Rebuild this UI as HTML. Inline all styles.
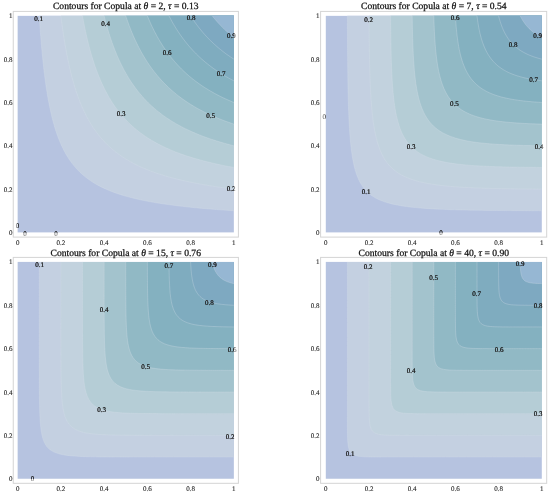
<!DOCTYPE html><html><head><meta charset="utf-8"><style>
html,body{margin:0;padding:0;background:#fff;width:550px;height:494px;overflow:hidden}
svg{display:block}
text{font-family:"Liberation Serif","DejaVu Serif",serif;text-rendering:geometricPrecision}
.cl text{font-size:7px;fill:#1e1e1e;text-anchor:middle;stroke:#1e1e1e;stroke-width:0.12px}
.tk text{font-size:7px;fill:#222222;stroke:#222222;stroke-width:0.1px}
.ti{font-size:9.6px;fill:#111111;stroke:#111111;stroke-width:0.25px}
</style></head><body>
<svg width="550" height="494" viewBox="0 0 550 494">
<rect x="17.65" y="15.85" width="216.2" height="216.55" fill="#b6c3e0"/>
<path d="M39.27 15.85 39.49 19.29 39.72 22.72 39.95 26.14 40.2 29.57 40.45 32.99 40.71 36.41 40.98 39.84 41.27 43.27 41.56 46.7 41.87 50.14 42.19 53.59 42.53 57.05 42.88 60.52 43.26 64 43.64 67.5 44.05 71.01 44.48 74.53 44.94 78.07 45.42 81.63 45.92 85.2 46.46 88.79 47.03 92.39 47.63 96.02 48.28 99.66 48.96 103.31 49.69 106.98 50.48 110.66 51.31 114.36 52.21 118.05 53.18 121.76 54.21 125.46 55.33 129.15 56.53 132.83 57.82 136.49 59.22 140.12 60.72 143.72 62.35 147.26 64.09 150.75 65.97 154.16 67.99 157.49 70.14 160.72 72.44 163.84 74.89 166.85 77.49 169.73 80.22 172.47 83.09 175.06 86.09 177.52 89.21 179.82 92.44 181.98 95.76 184 99.17 185.88 102.65 187.63 106.19 189.26 109.78 190.76 113.4 192.16 117.06 193.46 120.73 194.66 124.42 195.78 128.12 196.82 131.81 197.78 135.5 198.68 139.19 199.52 142.87 200.3 146.53 201.04 150.18 201.72 153.81 202.37 157.43 202.97 161.03 203.54 164.61 204.08 168.18 204.59 171.73 205.07 175.26 205.52 178.78 205.95 182.28 206.36 185.77 206.75 189.25 207.12 192.71 207.48 196.17 207.82 199.61 208.14 203.05 208.45 206.48 208.74 209.9 209.03 213.32 209.3 216.74 209.57 220.16 209.82 223.57 210.06 226.99 210.3 230.42 210.53 233.85 210.74 L233.85 15.85Z" fill="#c4d0e1"/>
<path d="M60.89 15.85 61.27 18.9 61.66 21.94 62.07 24.97 62.48 27.99 62.91 31 63.35 34 63.81 37 64.29 39.99 64.78 42.98 65.29 45.96 65.81 48.94 66.36 51.92 66.93 54.9 67.52 57.87 68.13 60.85 68.77 63.82 69.43 66.8 70.13 69.77 70.85 72.75 71.6 75.72 72.39 78.69 73.22 81.66 74.08 84.63 74.98 87.6 75.92 90.56 76.91 93.51 77.95 96.46 79.03 99.4 80.17 102.32 81.36 105.23 82.61 108.13 83.93 111 85.3 113.85 86.74 116.67 88.25 119.46 89.83 122.22 91.49 124.93 93.21 127.61 95.02 130.23 96.89 132.8 98.85 135.32 100.88 137.77 102.98 140.17 105.16 142.49 107.41 144.75 109.73 146.93 112.12 149.04 114.58 151.07 117.09 153.03 119.66 154.91 122.28 156.71 124.94 158.44 127.66 160.1 130.41 161.68 133.19 163.19 136.01 164.64 138.85 166.02 141.72 167.33 144.61 168.58 147.52 169.78 150.44 170.92 153.37 172.01 156.31 173.04 159.26 174.03 162.22 174.98 165.18 175.88 168.14 176.75 171.11 177.57 174.08 178.36 177.04 179.11 180.01 179.84 182.98 180.53 185.95 181.2 188.92 181.84 191.89 182.45 194.86 183.04 197.84 183.61 200.81 184.16 203.79 184.69 206.77 185.2 209.75 185.69 212.74 186.16 215.73 186.62 218.73 187.07 221.73 187.5 224.75 187.91 227.77 188.32 230.8 188.71 233.85 189.09 L233.85 15.85Z" fill="#c2d2de"/>
<path d="M82.51 15.85 82.99 18.52 83.49 21.17 84 23.8 84.52 26.43 85.06 29.04 85.61 31.63 86.17 34.22 86.76 36.79 87.35 39.36 87.97 41.91 88.61 44.45 89.26 46.99 89.94 49.52 90.64 52.03 91.36 54.54 92.1 57.04 92.87 59.54 93.66 62.02 94.48 64.5 95.32 66.97 96.2 69.43 97.11 71.88 98.04 74.31 99.02 76.74 100.02 79.16 101.06 81.56 102.14 83.95 103.25 86.33 104.4 88.69 105.6 91.03 106.83 93.35 108.11 95.65 109.43 97.93 110.8 100.19 112.21 102.42 113.66 104.62 115.16 106.79 116.71 108.93 118.31 111.04 119.95 113.11 121.64 115.15 123.38 117.15 125.16 119.1 126.98 121.02 128.85 122.89 130.76 124.72 132.72 126.5 134.71 128.24 136.75 129.93 138.81 131.58 140.92 133.18 143.06 134.73 145.23 136.23 147.42 137.69 149.65 139.1 151.9 140.47 154.18 141.79 156.48 143.07 158.79 144.31 161.13 145.51 163.49 146.66 165.86 147.78 168.24 148.86 170.64 149.9 173.06 150.9 175.48 151.88 177.91 152.81 180.36 153.72 182.81 154.6 185.28 155.45 187.75 156.27 190.23 157.06 192.72 157.83 195.22 158.58 197.72 159.3 200.24 159.99 202.76 160.67 205.29 161.33 207.83 161.96 210.38 162.58 212.94 163.18 215.51 163.77 218.09 164.33 220.69 164.89 223.29 165.42 225.91 165.95 228.54 166.45 231.19 166.95 233.85 167.44 L233.85 15.85Z" fill="#b5cdd6"/>
<path d="M104.13 15.85 104.71 18.13 105.3 20.4 105.9 22.64 106.52 24.87 107.14 27.08 107.78 29.27 108.44 31.45 109.11 33.61 109.79 35.76 110.49 37.89 111.2 40 111.93 42.11 112.67 44.2 113.44 46.27 114.22 48.34 115.02 50.38 115.83 52.42 116.67 54.44 117.53 56.45 118.41 58.45 119.31 60.43 120.23 62.4 121.17 64.36 122.14 66.3 123.13 68.23 124.14 70.14 125.18 72.04 126.25 73.92 127.34 75.78 128.45 77.63 129.59 79.46 130.76 81.28 131.96 83.07 133.18 84.85 134.43 86.6 135.7 88.34 137.01 90.05 138.34 91.75 139.7 93.42 141.09 95.06 142.5 96.69 143.94 98.29 145.41 99.86 146.9 101.41 148.43 102.94 149.97 104.43 151.55 105.9 153.14 107.35 154.76 108.76 156.41 110.15 158.08 111.52 159.77 112.85 161.48 114.16 163.21 115.43 164.96 116.69 166.74 117.91 168.53 119.11 170.34 120.28 172.17 121.42 174.01 122.54 175.88 123.63 177.75 124.69 179.65 125.73 181.56 126.75 183.48 127.74 185.42 128.71 187.37 129.65 189.34 130.58 191.32 131.48 193.31 132.36 195.32 133.22 197.34 134.06 199.37 134.88 201.42 135.68 203.48 136.46 205.55 137.22 207.63 137.97 209.73 138.7 211.85 139.41 213.98 140.11 216.12 140.8 218.28 141.47 220.45 142.12 222.64 142.76 224.85 143.39 227.07 144.01 229.31 144.61 231.57 145.2 233.85 145.78 L233.85 15.85Z" fill="#a3c3cd"/>
<path d="M125.75 15.85 126.39 17.75 127.03 19.63 127.69 21.49 128.35 23.32 129.02 25.14 129.7 26.94 130.39 28.72 131.09 30.48 131.81 32.22 132.53 33.95 133.26 35.66 134 37.35 134.76 39.03 135.52 40.69 136.3 42.34 137.09 43.97 137.89 45.59 138.7 47.19 139.53 48.78 140.36 50.35 141.21 51.91 142.08 53.45 142.96 54.98 143.85 56.49 144.76 58 145.68 59.48 146.61 60.96 147.56 62.42 148.52 63.86 149.5 65.29 150.49 66.71 151.5 68.11 152.52 69.5 153.56 70.88 154.62 72.24 155.68 73.58 156.77 74.91 157.87 76.23 158.98 77.53 160.12 78.81 161.26 80.09 162.42 81.34 163.6 82.58 164.79 83.81 166 85.02 167.23 86.21 168.46 87.39 169.72 88.56 170.99 89.7 172.27 90.84 173.57 91.95 174.88 93.06 176.21 94.14 177.56 95.21 178.91 96.27 180.28 97.31 181.67 98.33 183.07 99.34 184.49 100.34 185.92 101.32 187.36 102.28 188.82 103.23 190.29 104.17 191.77 105.09 193.27 106 194.78 106.89 196.31 107.77 197.85 108.64 199.41 109.49 200.98 110.33 202.56 111.15 204.16 111.97 205.77 112.77 207.4 113.56 209.05 114.34 210.71 115.11 212.38 115.86 214.07 116.6 215.78 117.34 217.5 118.06 219.24 118.77 221 119.47 222.78 120.17 224.58 120.85 226.39 121.52 228.22 122.19 230.08 122.84 231.95 123.49 233.85 124.13 L233.85 15.85Z" fill="#91b9c5"/>
<path d="M147.37 15.85 147.99 17.37 148.62 18.86 149.26 20.34 149.9 21.8 150.54 23.23 151.19 24.65 151.84 26.05 152.5 27.43 153.17 28.8 153.84 30.14 154.51 31.47 155.19 32.79 155.88 34.09 156.57 35.37 157.27 36.64 157.98 37.9 158.69 39.14 159.41 40.37 160.14 41.58 160.87 42.78 161.61 43.97 162.35 45.14 163.1 46.31 163.86 47.46 164.63 48.6 165.4 49.72 166.18 50.84 166.97 51.94 167.77 53.03 168.57 54.11 169.38 55.18 170.2 56.24 171.03 57.29 171.87 58.33 172.71 59.36 173.56 60.38 174.42 61.39 175.29 62.38 176.17 63.37 177.05 64.35 177.95 65.32 178.85 66.28 179.76 67.23 180.68 68.17 181.61 69.1 182.55 70.03 183.5 70.94 184.46 71.84 185.43 72.74 186.4 73.63 187.39 74.51 188.39 75.38 189.39 76.24 190.41 77.09 191.44 77.93 192.47 78.77 193.52 79.6 194.58 80.42 195.65 81.23 196.73 82.04 197.82 82.84 198.92 83.63 200.03 84.41 201.16 85.18 202.29 85.95 203.44 86.71 204.6 87.47 205.78 88.21 206.96 88.95 208.16 89.68 209.37 90.41 210.6 91.13 211.84 91.84 213.09 92.55 214.36 93.25 215.64 93.94 216.94 94.63 218.25 95.32 219.58 95.99 220.92 96.66 222.29 97.33 223.67 97.99 225.06 98.65 226.48 99.29 227.91 99.94 229.37 100.58 230.84 101.21 232.33 101.84 233.85 102.47 L233.85 15.85Z" fill="#84b1c0"/>
<path d="M168.99 15.85 169.58 16.99 170.16 18.1 170.74 19.2 171.33 20.28 171.91 21.34 172.5 22.38 173.08 23.41 173.67 24.42 174.26 25.41 174.84 26.39 175.43 27.36 176.02 28.31 176.6 29.24 177.19 30.16 177.78 31.07 178.37 31.97 178.96 32.86 179.56 33.73 180.15 34.59 180.75 35.45 181.34 36.29 181.94 37.12 182.54 37.94 183.14 38.75 183.75 39.55 184.35 40.34 184.96 41.13 185.57 41.9 186.18 42.67 186.8 43.43 187.41 44.18 188.03 44.93 188.65 45.67 189.28 46.4 189.91 47.12 190.54 47.84 191.18 48.55 191.81 49.25 192.46 49.95 193.1 50.65 193.75 51.33 194.41 52.02 195.06 52.7 195.73 53.37 196.39 54.04 197.06 54.7 197.74 55.36 198.42 56.01 199.11 56.66 199.8 57.31 200.5 57.95 201.2 58.59 201.91 59.23 202.63 59.86 203.35 60.49 204.08 61.12 204.82 61.74 205.56 62.36 206.31 62.98 207.07 63.6 207.84 64.21 208.61 64.82 209.39 65.43 210.19 66.03 210.99 66.64 211.8 67.24 212.62 67.84 213.45 68.44 214.29 69.04 215.14 69.64 216 70.23 216.87 70.82 217.75 71.42 218.65 72.01 219.56 72.6 220.48 73.19 221.41 73.78 222.36 74.37 223.33 74.95 224.3 75.54 225.3 76.13 226.3 76.71 227.33 77.3 228.37 77.89 229.43 78.47 230.51 79.06 231.6 79.64 232.72 80.23 233.85 80.81 L233.85 15.85Z" fill="#7facbf"/>
<path d="M190.61 15.85 191.09 16.61 191.57 17.35 192.05 18.07 192.52 18.78 192.99 19.47 193.45 20.15 193.91 20.82 194.37 21.47 194.82 22.11 195.27 22.74 195.72 23.36 196.16 23.97 196.6 24.56 197.04 25.15 197.47 25.73 197.9 26.3 198.33 26.86 198.76 27.41 199.19 27.95 199.61 28.48 200.03 29.01 200.46 29.53 200.87 30.05 201.29 30.55 201.71 31.05 202.13 31.55 202.54 32.04 202.96 32.52 203.37 33 203.78 33.47 204.2 33.94 204.61 34.41 205.02 34.87 205.43 35.32 205.85 35.78 206.26 36.23 206.68 36.67 207.09 37.11 207.51 37.55 207.92 37.99 208.34 38.42 208.76 38.85 209.18 39.28 209.6 39.71 210.03 40.14 210.45 40.56 210.88 40.98 211.31 41.4 211.75 41.82 212.18 42.24 212.62 42.65 213.06 43.07 213.51 43.48 213.96 43.9 214.41 44.31 214.86 44.72 215.32 45.14 215.79 45.55 216.25 45.97 216.73 46.38 217.2 46.79 217.69 47.21 218.18 47.63 218.67 48.04 219.17 48.46 219.68 48.88 220.19 49.3 220.71 49.72 221.24 50.14 221.77 50.57 222.31 50.99 222.86 51.42 223.42 51.85 223.99 52.29 224.56 52.72 225.15 53.16 225.75 53.6 226.35 54.05 226.97 54.49 227.6 54.94 228.24 55.4 228.89 55.85 229.56 56.31 230.23 56.78 230.93 57.25 231.63 57.72 232.36 58.19 233.1 58.67 233.85 59.16 L233.85 15.85Z" fill="#7ea9c1"/>
<path d="M212.23 15.85 212.53 16.23 212.83 16.59 213.11 16.95 213.4 17.3 213.68 17.64 213.95 17.97 214.22 18.29 214.48 18.61 214.74 18.92 215 19.22 215.25 19.51 215.5 19.8 215.74 20.09 215.98 20.36 216.22 20.64 216.45 20.91 216.68 21.17 216.91 21.43 217.14 21.68 217.36 21.93 217.58 22.18 217.8 22.42 218.02 22.66 218.24 22.9 218.45 23.14 218.66 23.37 218.87 23.59 219.08 23.82 219.29 24.04 219.5 24.26 219.7 24.48 219.91 24.7 220.11 24.91 220.31 25.13 220.52 25.34 220.72 25.55 220.92 25.76 221.12 25.97 221.32 26.17 221.52 26.38 221.72 26.58 221.92 26.79 222.12 26.99 222.33 27.19 222.53 27.39 222.73 27.59 222.93 27.8 223.14 28 223.34 28.2 223.54 28.4 223.75 28.6 223.96 28.8 224.17 29 224.38 29.21 224.59 29.41 224.8 29.61 225.01 29.82 225.23 30.02 225.45 30.23 225.67 30.43 225.89 30.64 226.12 30.85 226.35 31.06 226.58 31.28 226.81 31.49 227.05 31.71 227.29 31.92 227.53 32.14 227.78 32.36 228.03 32.59 228.28 32.82 228.54 33.04 228.8 33.28 229.07 33.51 229.34 33.75 229.62 33.99 229.9 34.23 230.19 34.48 230.49 34.73 230.79 34.99 231.1 35.25 231.41 35.51 231.73 35.78 232.07 36.06 232.4 36.34 232.75 36.62 233.11 36.91 233.47 37.2 233.85 37.5 L233.85 15.85Z" fill="#96b7d3"/>
<g fill="none" stroke="#d4e0e8" stroke-opacity="0.45" stroke-width="0.7">
<path d="M39.27 15.85 39.49 19.29 39.72 22.72 39.95 26.14 40.2 29.57 40.45 32.99 40.71 36.41 40.98 39.84 41.27 43.27 41.56 46.7 41.87 50.14 42.19 53.59 42.53 57.05 42.88 60.52 43.26 64 43.64 67.5 44.05 71.01 44.48 74.53 44.94 78.07 45.42 81.63 45.92 85.2 46.46 88.79 47.03 92.39 47.63 96.02 48.28 99.66 48.96 103.31 49.69 106.98 50.48 110.66 51.31 114.36 52.21 118.05 53.18 121.76 54.21 125.46 55.33 129.15 56.53 132.83 57.82 136.49 59.22 140.12 60.72 143.72 62.35 147.26 64.09 150.75 65.97 154.16 67.99 157.49 70.14 160.72 72.44 163.84 74.89 166.85 77.49 169.73 80.22 172.47 83.09 175.06 86.09 177.52 89.21 179.82 92.44 181.98 95.76 184 99.17 185.88 102.65 187.63 106.19 189.26 109.78 190.76 113.4 192.16 117.06 193.46 120.73 194.66 124.42 195.78 128.12 196.82 131.81 197.78 135.5 198.68 139.19 199.52 142.87 200.3 146.53 201.04 150.18 201.72 153.81 202.37 157.43 202.97 161.03 203.54 164.61 204.08 168.18 204.59 171.73 205.07 175.26 205.52 178.78 205.95 182.28 206.36 185.77 206.75 189.25 207.12 192.71 207.48 196.17 207.82 199.61 208.14 203.05 208.45 206.48 208.74 209.9 209.03 213.32 209.3 216.74 209.57 220.16 209.82 223.57 210.06 226.99 210.3 230.42 210.53 233.85 210.74"/>
<path d="M60.89 15.85 61.27 18.9 61.66 21.94 62.07 24.97 62.48 27.99 62.91 31 63.35 34 63.81 37 64.29 39.99 64.78 42.98 65.29 45.96 65.81 48.94 66.36 51.92 66.93 54.9 67.52 57.87 68.13 60.85 68.77 63.82 69.43 66.8 70.13 69.77 70.85 72.75 71.6 75.72 72.39 78.69 73.22 81.66 74.08 84.63 74.98 87.6 75.92 90.56 76.91 93.51 77.95 96.46 79.03 99.4 80.17 102.32 81.36 105.23 82.61 108.13 83.93 111 85.3 113.85 86.74 116.67 88.25 119.46 89.83 122.22 91.49 124.93 93.21 127.61 95.02 130.23 96.89 132.8 98.85 135.32 100.88 137.77 102.98 140.17 105.16 142.49 107.41 144.75 109.73 146.93 112.12 149.04 114.58 151.07 117.09 153.03 119.66 154.91 122.28 156.71 124.94 158.44 127.66 160.1 130.41 161.68 133.19 163.19 136.01 164.64 138.85 166.02 141.72 167.33 144.61 168.58 147.52 169.78 150.44 170.92 153.37 172.01 156.31 173.04 159.26 174.03 162.22 174.98 165.18 175.88 168.14 176.75 171.11 177.57 174.08 178.36 177.04 179.11 180.01 179.84 182.98 180.53 185.95 181.2 188.92 181.84 191.89 182.45 194.86 183.04 197.84 183.61 200.81 184.16 203.79 184.69 206.77 185.2 209.75 185.69 212.74 186.16 215.73 186.62 218.73 187.07 221.73 187.5 224.75 187.91 227.77 188.32 230.8 188.71 233.85 189.09"/>
<path d="M82.51 15.85 82.99 18.52 83.49 21.17 84 23.8 84.52 26.43 85.06 29.04 85.61 31.63 86.17 34.22 86.76 36.79 87.35 39.36 87.97 41.91 88.61 44.45 89.26 46.99 89.94 49.52 90.64 52.03 91.36 54.54 92.1 57.04 92.87 59.54 93.66 62.02 94.48 64.5 95.32 66.97 96.2 69.43 97.11 71.88 98.04 74.31 99.02 76.74 100.02 79.16 101.06 81.56 102.14 83.95 103.25 86.33 104.4 88.69 105.6 91.03 106.83 93.35 108.11 95.65 109.43 97.93 110.8 100.19 112.21 102.42 113.66 104.62 115.16 106.79 116.71 108.93 118.31 111.04 119.95 113.11 121.64 115.15 123.38 117.15 125.16 119.1 126.98 121.02 128.85 122.89 130.76 124.72 132.72 126.5 134.71 128.24 136.75 129.93 138.81 131.58 140.92 133.18 143.06 134.73 145.23 136.23 147.42 137.69 149.65 139.1 151.9 140.47 154.18 141.79 156.48 143.07 158.79 144.31 161.13 145.51 163.49 146.66 165.86 147.78 168.24 148.86 170.64 149.9 173.06 150.9 175.48 151.88 177.91 152.81 180.36 153.72 182.81 154.6 185.28 155.45 187.75 156.27 190.23 157.06 192.72 157.83 195.22 158.58 197.72 159.3 200.24 159.99 202.76 160.67 205.29 161.33 207.83 161.96 210.38 162.58 212.94 163.18 215.51 163.77 218.09 164.33 220.69 164.89 223.29 165.42 225.91 165.95 228.54 166.45 231.19 166.95 233.85 167.44"/>
<path d="M104.13 15.85 104.71 18.13 105.3 20.4 105.9 22.64 106.52 24.87 107.14 27.08 107.78 29.27 108.44 31.45 109.11 33.61 109.79 35.76 110.49 37.89 111.2 40 111.93 42.11 112.67 44.2 113.44 46.27 114.22 48.34 115.02 50.38 115.83 52.42 116.67 54.44 117.53 56.45 118.41 58.45 119.31 60.43 120.23 62.4 121.17 64.36 122.14 66.3 123.13 68.23 124.14 70.14 125.18 72.04 126.25 73.92 127.34 75.78 128.45 77.63 129.59 79.46 130.76 81.28 131.96 83.07 133.18 84.85 134.43 86.6 135.7 88.34 137.01 90.05 138.34 91.75 139.7 93.42 141.09 95.06 142.5 96.69 143.94 98.29 145.41 99.86 146.9 101.41 148.43 102.94 149.97 104.43 151.55 105.9 153.14 107.35 154.76 108.76 156.41 110.15 158.08 111.52 159.77 112.85 161.48 114.16 163.21 115.43 164.96 116.69 166.74 117.91 168.53 119.11 170.34 120.28 172.17 121.42 174.01 122.54 175.88 123.63 177.75 124.69 179.65 125.73 181.56 126.75 183.48 127.74 185.42 128.71 187.37 129.65 189.34 130.58 191.32 131.48 193.31 132.36 195.32 133.22 197.34 134.06 199.37 134.88 201.42 135.68 203.48 136.46 205.55 137.22 207.63 137.97 209.73 138.7 211.85 139.41 213.98 140.11 216.12 140.8 218.28 141.47 220.45 142.12 222.64 142.76 224.85 143.39 227.07 144.01 229.31 144.61 231.57 145.2 233.85 145.78"/>
<path d="M125.75 15.85 126.39 17.75 127.03 19.63 127.69 21.49 128.35 23.32 129.02 25.14 129.7 26.94 130.39 28.72 131.09 30.48 131.81 32.22 132.53 33.95 133.26 35.66 134 37.35 134.76 39.03 135.52 40.69 136.3 42.34 137.09 43.97 137.89 45.59 138.7 47.19 139.53 48.78 140.36 50.35 141.21 51.91 142.08 53.45 142.96 54.98 143.85 56.49 144.76 58 145.68 59.48 146.61 60.96 147.56 62.42 148.52 63.86 149.5 65.29 150.49 66.71 151.5 68.11 152.52 69.5 153.56 70.88 154.62 72.24 155.68 73.58 156.77 74.91 157.87 76.23 158.98 77.53 160.12 78.81 161.26 80.09 162.42 81.34 163.6 82.58 164.79 83.81 166 85.02 167.23 86.21 168.46 87.39 169.72 88.56 170.99 89.7 172.27 90.84 173.57 91.95 174.88 93.06 176.21 94.14 177.56 95.21 178.91 96.27 180.28 97.31 181.67 98.33 183.07 99.34 184.49 100.34 185.92 101.32 187.36 102.28 188.82 103.23 190.29 104.17 191.77 105.09 193.27 106 194.78 106.89 196.31 107.77 197.85 108.64 199.41 109.49 200.98 110.33 202.56 111.15 204.16 111.97 205.77 112.77 207.4 113.56 209.05 114.34 210.71 115.11 212.38 115.86 214.07 116.6 215.78 117.34 217.5 118.06 219.24 118.77 221 119.47 222.78 120.17 224.58 120.85 226.39 121.52 228.22 122.19 230.08 122.84 231.95 123.49 233.85 124.13"/>
<path d="M147.37 15.85 147.99 17.37 148.62 18.86 149.26 20.34 149.9 21.8 150.54 23.23 151.19 24.65 151.84 26.05 152.5 27.43 153.17 28.8 153.84 30.14 154.51 31.47 155.19 32.79 155.88 34.09 156.57 35.37 157.27 36.64 157.98 37.9 158.69 39.14 159.41 40.37 160.14 41.58 160.87 42.78 161.61 43.97 162.35 45.14 163.1 46.31 163.86 47.46 164.63 48.6 165.4 49.72 166.18 50.84 166.97 51.94 167.77 53.03 168.57 54.11 169.38 55.18 170.2 56.24 171.03 57.29 171.87 58.33 172.71 59.36 173.56 60.38 174.42 61.39 175.29 62.38 176.17 63.37 177.05 64.35 177.95 65.32 178.85 66.28 179.76 67.23 180.68 68.17 181.61 69.1 182.55 70.03 183.5 70.94 184.46 71.84 185.43 72.74 186.4 73.63 187.39 74.51 188.39 75.38 189.39 76.24 190.41 77.09 191.44 77.93 192.47 78.77 193.52 79.6 194.58 80.42 195.65 81.23 196.73 82.04 197.82 82.84 198.92 83.63 200.03 84.41 201.16 85.18 202.29 85.95 203.44 86.71 204.6 87.47 205.78 88.21 206.96 88.95 208.16 89.68 209.37 90.41 210.6 91.13 211.84 91.84 213.09 92.55 214.36 93.25 215.64 93.94 216.94 94.63 218.25 95.32 219.58 95.99 220.92 96.66 222.29 97.33 223.67 97.99 225.06 98.65 226.48 99.29 227.91 99.94 229.37 100.58 230.84 101.21 232.33 101.84 233.85 102.47"/>
<path d="M168.99 15.85 169.58 16.99 170.16 18.1 170.74 19.2 171.33 20.28 171.91 21.34 172.5 22.38 173.08 23.41 173.67 24.42 174.26 25.41 174.84 26.39 175.43 27.36 176.02 28.31 176.6 29.24 177.19 30.16 177.78 31.07 178.37 31.97 178.96 32.86 179.56 33.73 180.15 34.59 180.75 35.45 181.34 36.29 181.94 37.12 182.54 37.94 183.14 38.75 183.75 39.55 184.35 40.34 184.96 41.13 185.57 41.9 186.18 42.67 186.8 43.43 187.41 44.18 188.03 44.93 188.65 45.67 189.28 46.4 189.91 47.12 190.54 47.84 191.18 48.55 191.81 49.25 192.46 49.95 193.1 50.65 193.75 51.33 194.41 52.02 195.06 52.7 195.73 53.37 196.39 54.04 197.06 54.7 197.74 55.36 198.42 56.01 199.11 56.66 199.8 57.31 200.5 57.95 201.2 58.59 201.91 59.23 202.63 59.86 203.35 60.49 204.08 61.12 204.82 61.74 205.56 62.36 206.31 62.98 207.07 63.6 207.84 64.21 208.61 64.82 209.39 65.43 210.19 66.03 210.99 66.64 211.8 67.24 212.62 67.84 213.45 68.44 214.29 69.04 215.14 69.64 216 70.23 216.87 70.82 217.75 71.42 218.65 72.01 219.56 72.6 220.48 73.19 221.41 73.78 222.36 74.37 223.33 74.95 224.3 75.54 225.3 76.13 226.3 76.71 227.33 77.3 228.37 77.89 229.43 78.47 230.51 79.06 231.6 79.64 232.72 80.23 233.85 80.81"/>
<path d="M190.61 15.85 191.09 16.61 191.57 17.35 192.05 18.07 192.52 18.78 192.99 19.47 193.45 20.15 193.91 20.82 194.37 21.47 194.82 22.11 195.27 22.74 195.72 23.36 196.16 23.97 196.6 24.56 197.04 25.15 197.47 25.73 197.9 26.3 198.33 26.86 198.76 27.41 199.19 27.95 199.61 28.48 200.03 29.01 200.46 29.53 200.87 30.05 201.29 30.55 201.71 31.05 202.13 31.55 202.54 32.04 202.96 32.52 203.37 33 203.78 33.47 204.2 33.94 204.61 34.41 205.02 34.87 205.43 35.32 205.85 35.78 206.26 36.23 206.68 36.67 207.09 37.11 207.51 37.55 207.92 37.99 208.34 38.42 208.76 38.85 209.18 39.28 209.6 39.71 210.03 40.14 210.45 40.56 210.88 40.98 211.31 41.4 211.75 41.82 212.18 42.24 212.62 42.65 213.06 43.07 213.51 43.48 213.96 43.9 214.41 44.31 214.86 44.72 215.32 45.14 215.79 45.55 216.25 45.97 216.73 46.38 217.2 46.79 217.69 47.21 218.18 47.63 218.67 48.04 219.17 48.46 219.68 48.88 220.19 49.3 220.71 49.72 221.24 50.14 221.77 50.57 222.31 50.99 222.86 51.42 223.42 51.85 223.99 52.29 224.56 52.72 225.15 53.16 225.75 53.6 226.35 54.05 226.97 54.49 227.6 54.94 228.24 55.4 228.89 55.85 229.56 56.31 230.23 56.78 230.93 57.25 231.63 57.72 232.36 58.19 233.1 58.67 233.85 59.16"/>
<path d="M212.23 15.85 212.53 16.23 212.83 16.59 213.11 16.95 213.4 17.3 213.68 17.64 213.95 17.97 214.22 18.29 214.48 18.61 214.74 18.92 215 19.22 215.25 19.51 215.5 19.8 215.74 20.09 215.98 20.36 216.22 20.64 216.45 20.91 216.68 21.17 216.91 21.43 217.14 21.68 217.36 21.93 217.58 22.18 217.8 22.42 218.02 22.66 218.24 22.9 218.45 23.14 218.66 23.37 218.87 23.59 219.08 23.82 219.29 24.04 219.5 24.26 219.7 24.48 219.91 24.7 220.11 24.91 220.31 25.13 220.52 25.34 220.72 25.55 220.92 25.76 221.12 25.97 221.32 26.17 221.52 26.38 221.72 26.58 221.92 26.79 222.12 26.99 222.33 27.19 222.53 27.39 222.73 27.59 222.93 27.8 223.14 28 223.34 28.2 223.54 28.4 223.75 28.6 223.96 28.8 224.17 29 224.38 29.21 224.59 29.41 224.8 29.61 225.01 29.82 225.23 30.02 225.45 30.23 225.67 30.43 225.89 30.64 226.12 30.85 226.35 31.06 226.58 31.28 226.81 31.49 227.05 31.71 227.29 31.92 227.53 32.14 227.78 32.36 228.03 32.59 228.28 32.82 228.54 33.04 228.8 33.28 229.07 33.51 229.34 33.75 229.62 33.99 229.9 34.23 230.19 34.48 230.49 34.73 230.79 34.99 231.1 35.25 231.41 35.51 231.73 35.78 232.07 36.06 232.4 36.34 232.75 36.62 233.11 36.91 233.47 37.2 233.85 37.5"/>
</g>
<clipPath id="c33"><rect x="17.35" y="15.55" width="216.8" height="217.15"/></clipPath>
<g class="cl" opacity="0.6"><text x="38.7" y="20.61">0.1</text><text x="105.5" y="26.31">0.4</text><text x="191" y="19.81">0.8</text><text x="231.3" y="38.01">0.9</text><text x="167" y="54.81">0.6</text><text x="221" y="76.31">0.7</text><text x="121" y="116.31">0.3</text><text x="210.5" y="117.81">0.5</text><text x="231" y="191.31">0.2</text><text x="17.5" y="228.41">0</text><text x="25" y="235.81">0</text><text x="56" y="235.81">0</text></g>
<g class="cl" clip-path="url(#c33)"><text x="38.7" y="20.61">0.1</text><text x="105.5" y="26.31">0.4</text><text x="191" y="19.81">0.8</text><text x="231.3" y="38.01">0.9</text><text x="167" y="54.81">0.6</text><text x="221" y="76.31">0.7</text><text x="121" y="116.31">0.3</text><text x="210.5" y="117.81">0.5</text><text x="231" y="191.31">0.2</text><text x="17.5" y="228.41">0</text><text x="25" y="235.81">0</text><text x="56" y="235.81">0</text></g>
<rect x="13.25" y="11.4" width="225.15" height="225.7" fill="none" stroke="#d4d4d4" stroke-width="1.0"/>
<g class="tk">
<text x="17.65" y="244.7" text-anchor="middle">0</text>
<text x="12.4" y="234.9" text-anchor="end">0</text>
<text x="60.89" y="244.7" text-anchor="middle">0.2</text>
<text x="12.4" y="191.59" text-anchor="end">0.2</text>
<text x="104.13" y="244.7" text-anchor="middle">0.4</text>
<text x="12.4" y="148.28" text-anchor="end">0.4</text>
<text x="147.37" y="244.7" text-anchor="middle">0.6</text>
<text x="12.4" y="104.97" text-anchor="end">0.6</text>
<text x="190.61" y="244.7" text-anchor="middle">0.8</text>
<text x="12.4" y="61.66" text-anchor="end">0.8</text>
<text x="233.85" y="244.7" text-anchor="middle">1</text>
<text x="12.4" y="18.35" text-anchor="end">1</text>
</g>
<text class="ti" x="125.75" y="9.05" text-anchor="middle">Contours for Copula at <tspan font-style="italic">θ</tspan> = 2, <tspan font-style="italic">τ</tspan> = 0.13</text>
<rect x="325.8" y="15.85" width="216" height="216.55" fill="#b6c3e0"/>
<path d="M347.4 15.85 347.41 19.29 347.42 22.73 347.43 26.18 347.45 29.63 347.46 33.09 347.48 36.56 347.49 40.04 347.51 43.54 347.53 47.05 347.56 50.58 347.58 54.13 347.61 57.71 347.64 61.31 347.68 64.94 347.72 68.6 347.76 72.29 347.81 76.02 347.86 79.78 347.92 83.59 347.99 87.43 348.07 91.32 348.16 95.26 348.25 99.25 348.37 103.29 348.49 107.38 348.64 111.53 348.8 115.73 348.99 119.99 349.21 124.31 349.47 128.69 349.76 133.13 350.11 137.62 350.51 142.16 350.99 146.75 351.55 151.36 352.23 155.99 353.03 160.63 353.99 165.23 355.14 169.77 356.53 174.21 358.18 178.49 360.16 182.55 362.49 186.34 365.2 189.81 368.29 192.9 371.74 195.62 375.52 197.95 379.58 199.93 383.84 201.6 388.27 202.98 392.8 204.14 397.39 205.1 402.01 205.91 406.63 206.58 411.24 207.15 415.81 207.62 420.34 208.03 424.82 208.38 429.24 208.67 433.61 208.93 437.92 209.15 442.17 209.34 446.37 209.5 450.5 209.65 454.58 209.78 458.61 209.89 462.59 209.99 466.52 210.07 470.4 210.15 474.23 210.22 478.03 210.28 481.78 210.33 485.5 210.38 489.18 210.43 492.83 210.47 496.45 210.5 500.05 210.53 503.61 210.56 507.16 210.59 510.68 210.61 514.18 210.63 517.67 210.65 521.14 210.67 524.61 210.68 528.06 210.7 531.5 210.71 534.94 210.72 538.37 210.73 541.8 210.75 L541.8 15.85Z" fill="#c4d0e1"/>
<path d="M369 15.85 369.02 18.91 369.04 21.97 369.06 25.03 369.09 28.09 369.12 31.17 369.15 34.25 369.18 37.34 369.22 40.44 369.26 43.56 369.3 46.69 369.35 49.84 369.4 53.01 369.46 56.2 369.52 59.42 369.59 62.65 369.67 65.92 369.76 69.21 369.85 72.53 369.96 75.89 370.08 79.28 370.21 82.7 370.36 86.16 370.52 89.65 370.71 93.19 370.92 96.76 371.16 100.37 371.42 104.03 371.72 107.72 372.07 111.44 372.46 115.21 372.9 119 373.41 122.82 373.99 126.66 374.66 130.51 375.42 134.36 376.3 138.2 377.31 142 378.48 145.75 379.81 149.43 381.33 153.01 383.06 156.46 385.01 159.75 387.19 162.85 389.62 165.75 392.28 168.42 395.17 170.85 398.27 173.04 401.55 175 404.99 176.73 408.56 178.26 412.23 179.59 415.97 180.75 419.76 181.77 423.59 182.65 427.43 183.42 431.27 184.09 435.1 184.67 438.91 185.18 442.7 185.63 446.45 186.02 450.17 186.36 453.85 186.66 457.49 186.93 461.09 187.17 464.66 187.38 468.18 187.56 471.67 187.73 475.12 187.88 478.53 188.01 481.91 188.13 485.26 188.23 488.57 188.33 491.86 188.42 495.11 188.49 498.34 188.57 501.55 188.63 504.73 188.69 507.89 188.74 511.03 188.79 514.16 188.83 517.27 188.87 520.36 188.91 523.45 188.94 526.52 188.97 529.59 189 532.65 189.03 535.7 189.05 538.75 189.07 541.8 189.09 L541.8 15.85Z" fill="#c2d2de"/>
<path d="M390.6 15.85 390.62 18.53 390.64 21.2 390.67 23.88 390.69 26.56 390.72 29.25 390.76 31.95 390.79 34.65 390.83 37.36 390.87 40.09 390.92 42.83 390.97 45.58 391.02 48.35 391.09 51.14 391.15 53.95 391.23 56.77 391.31 59.62 391.4 62.5 391.5 65.4 391.61 68.32 391.74 71.28 391.88 74.26 392.03 77.27 392.21 80.31 392.4 83.38 392.62 86.48 392.87 89.62 393.14 92.78 393.46 95.98 393.81 99.2 394.21 102.44 394.66 105.71 395.18 108.99 395.76 112.28 396.42 115.58 397.18 118.86 398.04 122.13 399.01 125.36 400.12 128.54 401.37 131.65 402.77 134.68 404.35 137.6 406.1 140.39 408.04 143.04 410.16 145.52 412.46 147.83 414.94 149.95 417.58 151.89 420.36 153.65 423.27 155.23 426.29 156.64 429.4 157.89 432.57 159 435.79 159.98 439.05 160.84 442.33 161.6 445.61 162.26 448.89 162.85 452.17 163.36 455.43 163.82 458.66 164.22 461.88 164.57 465.06 164.88 468.22 165.16 471.34 165.41 474.44 165.63 477.5 165.82 480.54 166 483.54 166.15 486.52 166.29 489.46 166.42 492.38 166.53 495.27 166.63 498.14 166.72 500.98 166.81 503.8 166.88 506.6 166.95 509.38 167.01 512.14 167.07 514.89 167.12 517.62 167.16 520.34 167.2 523.05 167.24 525.74 167.28 528.43 167.31 531.11 167.34 533.79 167.37 536.46 167.39 539.13 167.41 541.8 167.44 L541.8 15.85Z" fill="#b5cdd6"/>
<path d="M412.2 15.85 412.23 18.14 412.27 20.44 412.31 22.73 412.35 25.03 412.4 27.33 412.45 29.63 412.5 31.95 412.56 34.27 412.62 36.6 412.69 38.94 412.76 41.29 412.84 43.65 412.93 46.03 413.02 48.42 413.13 50.82 413.24 53.25 413.37 55.69 413.5 58.15 413.65 60.62 413.82 63.12 414 65.64 414.2 68.18 414.42 70.74 414.66 73.32 414.93 75.92 415.23 78.54 415.56 81.18 415.92 83.84 416.33 86.51 416.78 89.2 417.29 91.89 417.85 94.59 418.48 97.28 419.18 99.97 419.95 102.64 420.82 105.29 421.77 107.9 422.84 110.47 424.01 112.98 425.3 115.43 426.71 117.79 428.25 120.06 429.92 122.23 431.72 124.28 433.65 126.21 435.7 128.01 437.86 129.69 440.12 131.23 442.48 132.65 444.91 133.94 447.42 135.12 449.98 136.18 452.59 137.14 455.23 138.01 457.89 138.79 460.57 139.49 463.26 140.11 465.95 140.68 468.64 141.18 471.32 141.64 473.98 142.05 476.63 142.41 479.27 142.75 481.88 143.04 484.48 143.31 487.05 143.56 489.6 143.78 492.14 143.98 494.65 144.16 497.14 144.32 499.61 144.47 502.07 144.61 504.5 144.74 506.92 144.85 509.32 144.95 511.7 145.05 514.07 145.14 516.43 145.22 518.77 145.29 521.11 145.36 523.43 145.42 525.74 145.48 528.05 145.53 530.35 145.58 532.65 145.63 534.94 145.67 537.23 145.71 539.51 145.75 541.8 145.78 L541.8 15.85Z" fill="#a3c3cd"/>
<path d="M433.8 15.85 433.86 17.76 433.92 19.67 433.98 21.58 434.05 23.49 434.13 25.4 434.21 27.32 434.29 29.23 434.38 31.16 434.48 33.09 434.59 35.02 434.7 36.96 434.82 38.91 434.95 40.87 435.09 42.84 435.24 44.81 435.4 46.8 435.57 48.8 435.76 50.81 435.96 52.83 436.18 54.86 436.42 56.9 436.68 58.96 436.96 61.03 437.26 63.11 437.59 65.19 437.95 67.29 438.34 69.39 438.76 71.51 439.22 73.62 439.73 75.74 440.28 77.85 440.87 79.96 441.52 82.06 442.23 84.15 443 86.22 443.84 88.27 444.74 90.29 445.72 92.27 446.78 94.21 447.92 96.1 449.13 97.93 450.44 99.7 451.82 101.4 453.29 103.03 454.84 104.58 456.47 106.06 458.16 107.45 459.93 108.75 461.76 109.97 463.64 111.11 465.58 112.17 467.55 113.15 469.56 114.06 471.6 114.9 473.67 115.67 475.75 116.38 477.85 117.03 479.96 117.63 482.06 118.18 484.18 118.69 486.29 119.15 488.39 119.58 490.49 119.97 492.58 120.33 494.66 120.66 496.74 120.96 498.8 121.24 500.85 121.5 502.89 121.74 504.92 121.96 506.93 122.16 508.94 122.35 510.93 122.52 512.91 122.68 514.88 122.83 516.84 122.97 518.8 123.1 520.74 123.22 522.68 123.34 524.61 123.44 526.53 123.54 528.45 123.63 530.36 123.72 532.27 123.8 534.18 123.87 536.09 123.94 537.99 124.01 539.89 124.07 541.8 124.12 L541.8 15.85Z" fill="#91b9c5"/>
<path d="M455.4 15.85 455.49 17.38 455.59 18.9 455.7 20.42 455.81 21.95 455.92 23.47 456.04 24.99 456.17 26.51 456.31 28.03 456.45 29.56 456.6 31.08 456.76 32.61 456.93 34.14 457.11 35.68 457.3 37.22 457.5 38.76 457.72 40.31 457.94 41.86 458.19 43.41 458.44 44.97 458.72 46.54 459.01 48.11 459.32 49.68 459.65 51.25 460 52.83 460.37 54.4 460.77 55.98 461.2 57.56 461.66 59.14 462.14 60.71 462.66 62.28 463.21 63.84 463.8 65.4 464.43 66.94 465.1 68.47 465.8 69.98 466.56 71.47 467.36 72.94 468.2 74.39 469.09 75.81 470.03 77.19 471.02 78.54 472.06 79.85 473.15 81.12 474.29 82.35 475.47 83.54 476.69 84.67 477.96 85.76 479.27 86.81 480.62 87.8 482 88.74 483.41 89.64 484.85 90.48 486.32 91.28 487.81 92.04 489.31 92.75 490.84 93.42 492.38 94.05 493.93 94.64 495.49 95.19 497.05 95.71 498.62 96.2 500.19 96.65 501.77 97.08 503.34 97.48 504.92 97.86 506.49 98.21 508.06 98.54 509.63 98.85 511.19 99.15 512.75 99.42 514.31 99.68 515.86 99.92 517.4 100.15 518.95 100.36 520.49 100.57 522.02 100.76 523.55 100.94 525.08 101.11 526.6 101.27 528.13 101.42 529.65 101.56 531.17 101.7 532.68 101.83 534.2 101.95 535.72 102.06 537.24 102.17 538.76 102.28 540.28 102.38 541.8 102.47 L541.8 15.85Z" fill="#84b1c0"/>
<path d="M477 15.85 477.14 16.99 477.29 18.13 477.44 19.27 477.6 20.4 477.77 21.53 477.94 22.66 478.12 23.78 478.3 24.9 478.5 26.02 478.7 27.13 478.91 28.25 479.13 29.36 479.36 30.47 479.6 31.58 479.84 32.69 480.1 33.8 480.38 34.9 480.66 36.01 480.96 37.11 481.27 38.21 481.59 39.31 481.93 40.4 482.28 41.5 482.65 42.59 483.03 43.67 483.44 44.76 483.86 45.84 484.3 46.91 484.76 47.97 485.24 49.03 485.74 50.09 486.27 51.13 486.81 52.16 487.38 53.18 487.97 54.19 488.58 55.19 489.22 56.17 489.89 57.14 490.57 58.09 491.29 59.03 492.02 59.94 492.78 60.84 493.57 61.71 494.37 62.57 495.2 63.4 496.05 64.21 496.93 64.99 497.82 65.76 498.73 66.49 499.67 67.21 500.61 67.9 501.58 68.56 502.56 69.2 503.55 69.82 504.56 70.41 505.58 70.98 506.61 71.53 507.65 72.05 508.7 72.55 509.76 73.03 510.82 73.5 511.89 73.94 512.97 74.36 514.05 74.76 515.13 75.15 516.22 75.52 517.31 75.88 518.4 76.21 519.5 76.54 520.6 76.85 521.7 77.15 522.8 77.43 523.9 77.7 525 77.96 526.11 78.21 527.22 78.45 528.32 78.68 529.43 78.9 530.55 79.11 531.66 79.31 532.77 79.51 533.89 79.7 535.01 79.87 536.13 80.05 537.26 80.21 538.39 80.37 539.52 80.53 540.66 80.67 541.8 80.81 L541.8 15.85Z" fill="#7facbf"/>
<path d="M498.6 15.85 498.79 16.61 498.98 17.37 499.18 18.11 499.38 18.86 499.59 19.59 499.8 20.33 500.02 21.05 500.24 21.77 500.47 22.49 500.71 23.2 500.94 23.9 501.19 24.6 501.44 25.3 501.7 25.99 501.96 26.68 502.23 27.36 502.5 28.04 502.79 28.71 503.07 29.38 503.37 30.04 503.67 30.7 503.99 31.36 504.3 32.01 504.63 32.65 504.96 33.29 505.31 33.93 505.66 34.56 506.01 35.18 506.38 35.8 506.76 36.41 507.14 37.02 507.53 37.62 507.93 38.21 508.34 38.8 508.76 39.38 509.19 39.96 509.62 40.53 510.07 41.09 510.52 41.64 510.99 42.19 511.46 42.73 511.94 43.26 512.43 43.78 512.92 44.29 513.43 44.8 513.94 45.3 514.46 45.79 514.99 46.27 515.53 46.74 516.07 47.21 516.63 47.66 517.19 48.11 517.75 48.54 518.33 48.97 518.91 49.39 519.49 49.8 520.09 50.2 520.69 50.6 521.29 50.98 521.9 51.36 522.52 51.73 523.14 52.09 523.77 52.44 524.4 52.78 525.04 53.11 525.68 53.44 526.33 53.76 526.98 54.07 527.64 54.38 528.3 54.67 528.97 54.96 529.64 55.25 530.32 55.52 531 55.79 531.68 56.06 532.37 56.31 533.07 56.57 533.77 56.81 534.47 57.05 535.18 57.28 535.89 57.51 536.61 57.73 537.34 57.95 538.07 58.17 538.8 58.37 539.54 58.58 540.29 58.78 541.04 58.97 541.8 59.16 L541.8 15.85Z" fill="#7ea9c1"/>
<path d="M520.2 15.85 520.39 16.23 520.58 16.6 520.77 16.97 520.96 17.33 521.15 17.68 521.34 18.03 521.53 18.37 521.72 18.71 521.91 19.04 522.1 19.37 522.3 19.69 522.49 20.01 522.68 20.33 522.87 20.64 523.07 20.94 523.26 21.24 523.46 21.54 523.65 21.83 523.85 22.12 524.05 22.41 524.24 22.69 524.44 22.97 524.64 23.24 524.84 23.52 525.04 23.79 525.24 24.05 525.44 24.32 525.64 24.58 525.85 24.83 526.05 25.09 526.26 25.34 526.46 25.59 526.67 25.84 526.88 26.09 527.09 26.33 527.3 26.57 527.51 26.81 527.73 27.04 527.94 27.28 528.16 27.51 528.37 27.74 528.59 27.97 528.81 28.2 529.03 28.43 529.26 28.65 529.48 28.87 529.71 29.09 529.94 29.31 530.17 29.53 530.4 29.75 530.63 29.96 530.87 30.17 531.11 30.39 531.35 30.6 531.59 30.81 531.84 31.02 532.08 31.23 532.33 31.43 532.58 31.64 532.84 31.84 533.1 32.05 533.36 32.25 533.62 32.45 533.88 32.65 534.15 32.85 534.42 33.05 534.7 33.25 534.98 33.45 535.26 33.65 535.54 33.85 535.83 34.04 536.13 34.24 536.42 34.43 536.72 34.63 537.03 34.82 537.33 35.02 537.65 35.21 537.97 35.4 538.29 35.6 538.61 35.79 538.95 35.98 539.28 36.17 539.63 36.36 539.97 36.55 540.33 36.74 540.69 36.94 541.05 37.13 541.42 37.32 541.8 37.5 L541.8 15.85Z" fill="#96b7d3"/>
<g fill="none" stroke="#d4e0e8" stroke-opacity="0.45" stroke-width="0.7">
<path d="M347.4 15.85 347.41 19.29 347.42 22.73 347.43 26.18 347.45 29.63 347.46 33.09 347.48 36.56 347.49 40.04 347.51 43.54 347.53 47.05 347.56 50.58 347.58 54.13 347.61 57.71 347.64 61.31 347.68 64.94 347.72 68.6 347.76 72.29 347.81 76.02 347.86 79.78 347.92 83.59 347.99 87.43 348.07 91.32 348.16 95.26 348.25 99.25 348.37 103.29 348.49 107.38 348.64 111.53 348.8 115.73 348.99 119.99 349.21 124.31 349.47 128.69 349.76 133.13 350.11 137.62 350.51 142.16 350.99 146.75 351.55 151.36 352.23 155.99 353.03 160.63 353.99 165.23 355.14 169.77 356.53 174.21 358.18 178.49 360.16 182.55 362.49 186.34 365.2 189.81 368.29 192.9 371.74 195.62 375.52 197.95 379.58 199.93 383.84 201.6 388.27 202.98 392.8 204.14 397.39 205.1 402.01 205.91 406.63 206.58 411.24 207.15 415.81 207.62 420.34 208.03 424.82 208.38 429.24 208.67 433.61 208.93 437.92 209.15 442.17 209.34 446.37 209.5 450.5 209.65 454.58 209.78 458.61 209.89 462.59 209.99 466.52 210.07 470.4 210.15 474.23 210.22 478.03 210.28 481.78 210.33 485.5 210.38 489.18 210.43 492.83 210.47 496.45 210.5 500.05 210.53 503.61 210.56 507.16 210.59 510.68 210.61 514.18 210.63 517.67 210.65 521.14 210.67 524.61 210.68 528.06 210.7 531.5 210.71 534.94 210.72 538.37 210.73 541.8 210.75"/>
<path d="M369 15.85 369.02 18.91 369.04 21.97 369.06 25.03 369.09 28.09 369.12 31.17 369.15 34.25 369.18 37.34 369.22 40.44 369.26 43.56 369.3 46.69 369.35 49.84 369.4 53.01 369.46 56.2 369.52 59.42 369.59 62.65 369.67 65.92 369.76 69.21 369.85 72.53 369.96 75.89 370.08 79.28 370.21 82.7 370.36 86.16 370.52 89.65 370.71 93.19 370.92 96.76 371.16 100.37 371.42 104.03 371.72 107.72 372.07 111.44 372.46 115.21 372.9 119 373.41 122.82 373.99 126.66 374.66 130.51 375.42 134.36 376.3 138.2 377.31 142 378.48 145.75 379.81 149.43 381.33 153.01 383.06 156.46 385.01 159.75 387.19 162.85 389.62 165.75 392.28 168.42 395.17 170.85 398.27 173.04 401.55 175 404.99 176.73 408.56 178.26 412.23 179.59 415.97 180.75 419.76 181.77 423.59 182.65 427.43 183.42 431.27 184.09 435.1 184.67 438.91 185.18 442.7 185.63 446.45 186.02 450.17 186.36 453.85 186.66 457.49 186.93 461.09 187.17 464.66 187.38 468.18 187.56 471.67 187.73 475.12 187.88 478.53 188.01 481.91 188.13 485.26 188.23 488.57 188.33 491.86 188.42 495.11 188.49 498.34 188.57 501.55 188.63 504.73 188.69 507.89 188.74 511.03 188.79 514.16 188.83 517.27 188.87 520.36 188.91 523.45 188.94 526.52 188.97 529.59 189 532.65 189.03 535.7 189.05 538.75 189.07 541.8 189.09"/>
<path d="M390.6 15.85 390.62 18.53 390.64 21.2 390.67 23.88 390.69 26.56 390.72 29.25 390.76 31.95 390.79 34.65 390.83 37.36 390.87 40.09 390.92 42.83 390.97 45.58 391.02 48.35 391.09 51.14 391.15 53.95 391.23 56.77 391.31 59.62 391.4 62.5 391.5 65.4 391.61 68.32 391.74 71.28 391.88 74.26 392.03 77.27 392.21 80.31 392.4 83.38 392.62 86.48 392.87 89.62 393.14 92.78 393.46 95.98 393.81 99.2 394.21 102.44 394.66 105.71 395.18 108.99 395.76 112.28 396.42 115.58 397.18 118.86 398.04 122.13 399.01 125.36 400.12 128.54 401.37 131.65 402.77 134.68 404.35 137.6 406.1 140.39 408.04 143.04 410.16 145.52 412.46 147.83 414.94 149.95 417.58 151.89 420.36 153.65 423.27 155.23 426.29 156.64 429.4 157.89 432.57 159 435.79 159.98 439.05 160.84 442.33 161.6 445.61 162.26 448.89 162.85 452.17 163.36 455.43 163.82 458.66 164.22 461.88 164.57 465.06 164.88 468.22 165.16 471.34 165.41 474.44 165.63 477.5 165.82 480.54 166 483.54 166.15 486.52 166.29 489.46 166.42 492.38 166.53 495.27 166.63 498.14 166.72 500.98 166.81 503.8 166.88 506.6 166.95 509.38 167.01 512.14 167.07 514.89 167.12 517.62 167.16 520.34 167.2 523.05 167.24 525.74 167.28 528.43 167.31 531.11 167.34 533.79 167.37 536.46 167.39 539.13 167.41 541.8 167.44"/>
<path d="M412.2 15.85 412.23 18.14 412.27 20.44 412.31 22.73 412.35 25.03 412.4 27.33 412.45 29.63 412.5 31.95 412.56 34.27 412.62 36.6 412.69 38.94 412.76 41.29 412.84 43.65 412.93 46.03 413.02 48.42 413.13 50.82 413.24 53.25 413.37 55.69 413.5 58.15 413.65 60.62 413.82 63.12 414 65.64 414.2 68.18 414.42 70.74 414.66 73.32 414.93 75.92 415.23 78.54 415.56 81.18 415.92 83.84 416.33 86.51 416.78 89.2 417.29 91.89 417.85 94.59 418.48 97.28 419.18 99.97 419.95 102.64 420.82 105.29 421.77 107.9 422.84 110.47 424.01 112.98 425.3 115.43 426.71 117.79 428.25 120.06 429.92 122.23 431.72 124.28 433.65 126.21 435.7 128.01 437.86 129.69 440.12 131.23 442.48 132.65 444.91 133.94 447.42 135.12 449.98 136.18 452.59 137.14 455.23 138.01 457.89 138.79 460.57 139.49 463.26 140.11 465.95 140.68 468.64 141.18 471.32 141.64 473.98 142.05 476.63 142.41 479.27 142.75 481.88 143.04 484.48 143.31 487.05 143.56 489.6 143.78 492.14 143.98 494.65 144.16 497.14 144.32 499.61 144.47 502.07 144.61 504.5 144.74 506.92 144.85 509.32 144.95 511.7 145.05 514.07 145.14 516.43 145.22 518.77 145.29 521.11 145.36 523.43 145.42 525.74 145.48 528.05 145.53 530.35 145.58 532.65 145.63 534.94 145.67 537.23 145.71 539.51 145.75 541.8 145.78"/>
<path d="M433.8 15.85 433.86 17.76 433.92 19.67 433.98 21.58 434.05 23.49 434.13 25.4 434.21 27.32 434.29 29.23 434.38 31.16 434.48 33.09 434.59 35.02 434.7 36.96 434.82 38.91 434.95 40.87 435.09 42.84 435.24 44.81 435.4 46.8 435.57 48.8 435.76 50.81 435.96 52.83 436.18 54.86 436.42 56.9 436.68 58.96 436.96 61.03 437.26 63.11 437.59 65.19 437.95 67.29 438.34 69.39 438.76 71.51 439.22 73.62 439.73 75.74 440.28 77.85 440.87 79.96 441.52 82.06 442.23 84.15 443 86.22 443.84 88.27 444.74 90.29 445.72 92.27 446.78 94.21 447.92 96.1 449.13 97.93 450.44 99.7 451.82 101.4 453.29 103.03 454.84 104.58 456.47 106.06 458.16 107.45 459.93 108.75 461.76 109.97 463.64 111.11 465.58 112.17 467.55 113.15 469.56 114.06 471.6 114.9 473.67 115.67 475.75 116.38 477.85 117.03 479.96 117.63 482.06 118.18 484.18 118.69 486.29 119.15 488.39 119.58 490.49 119.97 492.58 120.33 494.66 120.66 496.74 120.96 498.8 121.24 500.85 121.5 502.89 121.74 504.92 121.96 506.93 122.16 508.94 122.35 510.93 122.52 512.91 122.68 514.88 122.83 516.84 122.97 518.8 123.1 520.74 123.22 522.68 123.34 524.61 123.44 526.53 123.54 528.45 123.63 530.36 123.72 532.27 123.8 534.18 123.87 536.09 123.94 537.99 124.01 539.89 124.07 541.8 124.12"/>
<path d="M455.4 15.85 455.49 17.38 455.59 18.9 455.7 20.42 455.81 21.95 455.92 23.47 456.04 24.99 456.17 26.51 456.31 28.03 456.45 29.56 456.6 31.08 456.76 32.61 456.93 34.14 457.11 35.68 457.3 37.22 457.5 38.76 457.72 40.31 457.94 41.86 458.19 43.41 458.44 44.97 458.72 46.54 459.01 48.11 459.32 49.68 459.65 51.25 460 52.83 460.37 54.4 460.77 55.98 461.2 57.56 461.66 59.14 462.14 60.71 462.66 62.28 463.21 63.84 463.8 65.4 464.43 66.94 465.1 68.47 465.8 69.98 466.56 71.47 467.36 72.94 468.2 74.39 469.09 75.81 470.03 77.19 471.02 78.54 472.06 79.85 473.15 81.12 474.29 82.35 475.47 83.54 476.69 84.67 477.96 85.76 479.27 86.81 480.62 87.8 482 88.74 483.41 89.64 484.85 90.48 486.32 91.28 487.81 92.04 489.31 92.75 490.84 93.42 492.38 94.05 493.93 94.64 495.49 95.19 497.05 95.71 498.62 96.2 500.19 96.65 501.77 97.08 503.34 97.48 504.92 97.86 506.49 98.21 508.06 98.54 509.63 98.85 511.19 99.15 512.75 99.42 514.31 99.68 515.86 99.92 517.4 100.15 518.95 100.36 520.49 100.57 522.02 100.76 523.55 100.94 525.08 101.11 526.6 101.27 528.13 101.42 529.65 101.56 531.17 101.7 532.68 101.83 534.2 101.95 535.72 102.06 537.24 102.17 538.76 102.28 540.28 102.38 541.8 102.47"/>
<path d="M477 15.85 477.14 16.99 477.29 18.13 477.44 19.27 477.6 20.4 477.77 21.53 477.94 22.66 478.12 23.78 478.3 24.9 478.5 26.02 478.7 27.13 478.91 28.25 479.13 29.36 479.36 30.47 479.6 31.58 479.84 32.69 480.1 33.8 480.38 34.9 480.66 36.01 480.96 37.11 481.27 38.21 481.59 39.31 481.93 40.4 482.28 41.5 482.65 42.59 483.03 43.67 483.44 44.76 483.86 45.84 484.3 46.91 484.76 47.97 485.24 49.03 485.74 50.09 486.27 51.13 486.81 52.16 487.38 53.18 487.97 54.19 488.58 55.19 489.22 56.17 489.89 57.14 490.57 58.09 491.29 59.03 492.02 59.94 492.78 60.84 493.57 61.71 494.37 62.57 495.2 63.4 496.05 64.21 496.93 64.99 497.82 65.76 498.73 66.49 499.67 67.21 500.61 67.9 501.58 68.56 502.56 69.2 503.55 69.82 504.56 70.41 505.58 70.98 506.61 71.53 507.65 72.05 508.7 72.55 509.76 73.03 510.82 73.5 511.89 73.94 512.97 74.36 514.05 74.76 515.13 75.15 516.22 75.52 517.31 75.88 518.4 76.21 519.5 76.54 520.6 76.85 521.7 77.15 522.8 77.43 523.9 77.7 525 77.96 526.11 78.21 527.22 78.45 528.32 78.68 529.43 78.9 530.55 79.11 531.66 79.31 532.77 79.51 533.89 79.7 535.01 79.87 536.13 80.05 537.26 80.21 538.39 80.37 539.52 80.53 540.66 80.67 541.8 80.81"/>
<path d="M498.6 15.85 498.79 16.61 498.98 17.37 499.18 18.11 499.38 18.86 499.59 19.59 499.8 20.33 500.02 21.05 500.24 21.77 500.47 22.49 500.71 23.2 500.94 23.9 501.19 24.6 501.44 25.3 501.7 25.99 501.96 26.68 502.23 27.36 502.5 28.04 502.79 28.71 503.07 29.38 503.37 30.04 503.67 30.7 503.99 31.36 504.3 32.01 504.63 32.65 504.96 33.29 505.31 33.93 505.66 34.56 506.01 35.18 506.38 35.8 506.76 36.41 507.14 37.02 507.53 37.62 507.93 38.21 508.34 38.8 508.76 39.38 509.19 39.96 509.62 40.53 510.07 41.09 510.52 41.64 510.99 42.19 511.46 42.73 511.94 43.26 512.43 43.78 512.92 44.29 513.43 44.8 513.94 45.3 514.46 45.79 514.99 46.27 515.53 46.74 516.07 47.21 516.63 47.66 517.19 48.11 517.75 48.54 518.33 48.97 518.91 49.39 519.49 49.8 520.09 50.2 520.69 50.6 521.29 50.98 521.9 51.36 522.52 51.73 523.14 52.09 523.77 52.44 524.4 52.78 525.04 53.11 525.68 53.44 526.33 53.76 526.98 54.07 527.64 54.38 528.3 54.67 528.97 54.96 529.64 55.25 530.32 55.52 531 55.79 531.68 56.06 532.37 56.31 533.07 56.57 533.77 56.81 534.47 57.05 535.18 57.28 535.89 57.51 536.61 57.73 537.34 57.95 538.07 58.17 538.8 58.37 539.54 58.58 540.29 58.78 541.04 58.97 541.8 59.16"/>
<path d="M520.2 15.85 520.39 16.23 520.58 16.6 520.77 16.97 520.96 17.33 521.15 17.68 521.34 18.03 521.53 18.37 521.72 18.71 521.91 19.04 522.1 19.37 522.3 19.69 522.49 20.01 522.68 20.33 522.87 20.64 523.07 20.94 523.26 21.24 523.46 21.54 523.65 21.83 523.85 22.12 524.05 22.41 524.24 22.69 524.44 22.97 524.64 23.24 524.84 23.52 525.04 23.79 525.24 24.05 525.44 24.32 525.64 24.58 525.85 24.83 526.05 25.09 526.26 25.34 526.46 25.59 526.67 25.84 526.88 26.09 527.09 26.33 527.3 26.57 527.51 26.81 527.73 27.04 527.94 27.28 528.16 27.51 528.37 27.74 528.59 27.97 528.81 28.2 529.03 28.43 529.26 28.65 529.48 28.87 529.71 29.09 529.94 29.31 530.17 29.53 530.4 29.75 530.63 29.96 530.87 30.17 531.11 30.39 531.35 30.6 531.59 30.81 531.84 31.02 532.08 31.23 532.33 31.43 532.58 31.64 532.84 31.84 533.1 32.05 533.36 32.25 533.62 32.45 533.88 32.65 534.15 32.85 534.42 33.05 534.7 33.25 534.98 33.45 535.26 33.65 535.54 33.85 535.83 34.04 536.13 34.24 536.42 34.43 536.72 34.63 537.03 34.82 537.33 35.02 537.65 35.21 537.97 35.4 538.29 35.6 538.61 35.79 538.95 35.98 539.28 36.17 539.63 36.36 539.97 36.55 540.33 36.74 540.69 36.94 541.05 37.13 541.42 37.32 541.8 37.5"/>
</g>
<clipPath id="c341"><rect x="325.5" y="15.55" width="216.6" height="217.15"/></clipPath>
<g class="cl" opacity="0.6"><text x="368.5" y="22.01">0.2</text><text x="455.2" y="20.41">0.6</text><text x="537.5" y="37.61">0.9</text><text x="513" y="47.31">0.8</text><text x="533.5" y="82.31">0.7</text><text x="454.3" y="106.01">0.5</text><text x="324.3" y="119.31">0</text><text x="411" y="149.11">0.3</text><text x="539" y="149.31">0.4</text><text x="366.2" y="194.21">0.1</text><text x="441" y="234.81">0</text></g>
<g class="cl" clip-path="url(#c341)"><text x="368.5" y="22.01">0.2</text><text x="455.2" y="20.41">0.6</text><text x="537.5" y="37.61">0.9</text><text x="513" y="47.31">0.8</text><text x="533.5" y="82.31">0.7</text><text x="454.3" y="106.01">0.5</text><text x="324.3" y="119.31">0</text><text x="411" y="149.11">0.3</text><text x="539" y="149.31">0.4</text><text x="366.2" y="194.21">0.1</text><text x="441" y="234.81">0</text></g>
<rect x="320.6" y="11.4" width="226.1" height="225.7" fill="none" stroke="#d4d4d4" stroke-width="1.0"/>
<g class="tk">
<text x="325.8" y="244.7" text-anchor="middle">0</text>
<text x="319.6" y="234.9" text-anchor="end">0</text>
<text x="369" y="244.7" text-anchor="middle">0.2</text>
<text x="319.6" y="191.59" text-anchor="end">0.2</text>
<text x="412.2" y="244.7" text-anchor="middle">0.4</text>
<text x="319.6" y="148.28" text-anchor="end">0.4</text>
<text x="455.4" y="244.7" text-anchor="middle">0.6</text>
<text x="319.6" y="104.97" text-anchor="end">0.6</text>
<text x="498.6" y="244.7" text-anchor="middle">0.8</text>
<text x="319.6" y="61.66" text-anchor="end">0.8</text>
<text x="541.8" y="244.7" text-anchor="middle">1</text>
<text x="319.6" y="18.35" text-anchor="end">1</text>
</g>
<text class="ti" x="433.8" y="9.05" text-anchor="middle">Contours for Copula at <tspan font-style="italic">θ</tspan> = 7, <tspan font-style="italic">τ</tspan> = 0.54</text>
<rect x="17.65" y="261.9" width="216.2" height="216.85" fill="#b6c3e0"/>
<path d="M39.27 261.9 39.27 265.34 39.27 268.79 39.27 272.24 39.27 275.7 39.27 279.17 39.27 282.64 39.27 286.14 39.27 289.64 39.27 293.16 39.27 296.71 39.27 300.27 39.27 303.86 39.27 307.48 39.27 311.13 39.27 314.81 39.27 318.53 39.27 322.28 39.27 326.08 39.27 329.91 39.27 333.8 39.27 337.74 39.27 341.73 39.27 345.78 39.28 349.89 39.28 354.07 39.28 358.32 39.28 362.64 39.29 367.04 39.3 371.52 39.31 376.09 39.32 380.76 39.34 385.52 39.37 390.38 39.41 395.35 39.47 400.42 39.56 405.6 39.69 410.87 39.9 416.24 40.21 421.65 40.68 427.08 41.42 432.43 42.54 437.56 44.22 442.28 46.65 446.38 49.92 449.66 54.01 452.1 58.72 453.79 63.84 454.91 69.17 455.65 74.57 456.12 79.98 456.43 85.32 456.64 90.58 456.77 95.75 456.86 100.8 456.93 105.75 456.97 110.6 457 115.35 457.02 120 457.03 124.56 457.04 129.03 457.05 133.41 457.05 137.72 457.06 141.96 457.06 146.12 457.06 150.22 457.06 154.26 457.06 158.24 457.06 162.16 457.06 166.04 457.06 169.87 457.06 173.65 457.06 177.39 457.06 181.1 457.06 184.77 457.06 188.4 457.06 192.01 457.06 195.59 457.06 199.15 457.06 202.68 457.06 206.19 457.06 209.69 457.06 213.17 457.06 216.63 457.06 220.09 457.06 223.54 457.06 226.98 457.06 230.42 457.06 233.85 457.06 L233.85 261.9Z" fill="#c4d0e1"/>
<path d="M60.89 261.9 60.89 264.96 60.89 268.03 60.89 271.09 60.89 274.17 60.89 277.25 60.89 280.34 60.89 283.44 60.89 286.56 60.89 289.69 60.89 292.84 60.89 296.01 60.89 299.2 60.89 302.42 60.89 305.66 60.89 308.93 60.89 312.23 60.89 315.57 60.89 318.94 60.89 322.36 60.9 325.81 60.9 329.31 60.9 332.86 60.9 336.46 60.91 340.11 60.91 343.82 60.92 347.6 60.92 351.43 60.94 355.34 60.95 359.32 60.97 363.38 61 367.51 61.04 371.73 61.09 376.03 61.16 380.42 61.27 384.89 61.41 389.43 61.62 394.05 61.92 398.71 62.35 403.39 62.97 408.02 63.85 412.55 65.1 416.84 66.81 420.79 69.09 424.26 71.97 427.15 75.43 429.44 79.37 431.16 83.66 432.41 88.16 433.3 92.79 433.91 97.45 434.35 102.1 434.65 106.7 434.86 111.23 435 115.69 435.11 120.06 435.18 124.35 435.23 128.55 435.27 132.68 435.3 136.72 435.32 140.69 435.33 144.58 435.35 148.41 435.35 152.17 435.36 155.87 435.36 159.52 435.37 163.1 435.37 166.64 435.37 170.13 435.37 173.57 435.38 176.98 435.38 180.34 435.38 183.67 435.38 186.96 435.38 190.22 435.38 193.45 435.38 196.66 435.38 199.84 435.38 203 435.38 206.14 435.38 209.27 435.38 212.37 435.38 215.47 435.38 218.55 435.38 221.62 435.38 224.68 435.38 227.74 435.38 230.8 435.38 233.85 435.38 L233.85 261.9Z" fill="#c2d2de"/>
<path d="M82.51 261.9 82.51 264.58 82.51 267.26 82.51 269.94 82.51 272.63 82.51 275.33 82.51 278.03 82.51 280.75 82.51 283.48 82.51 286.22 82.51 288.97 82.51 291.75 82.51 294.54 82.51 297.35 82.51 300.19 82.52 303.05 82.52 305.94 82.52 308.86 82.52 311.81 82.52 314.8 82.53 317.82 82.53 320.88 82.53 323.98 82.54 327.13 82.55 330.32 82.56 333.57 82.57 336.87 82.59 340.22 82.61 343.63 82.63 347.1 82.67 350.64 82.72 354.24 82.78 357.91 82.86 361.65 82.97 365.45 83.12 369.32 83.32 373.23 83.59 377.19 83.96 381.17 84.47 385.14 85.16 389.04 86.1 392.83 87.34 396.42 88.96 399.73 91.01 402.66 93.51 405.17 96.44 407.22 99.73 408.85 103.31 410.1 107.09 411.03 110.98 411.73 114.94 412.24 118.9 412.61 122.85 412.88 126.76 413.09 130.61 413.23 134.4 413.34 138.13 413.43 141.78 413.49 145.38 413.54 148.9 413.57 152.36 413.6 155.77 413.62 159.11 413.64 162.4 413.65 165.63 413.66 168.82 413.67 171.95 413.67 175.05 413.68 178.1 413.68 181.11 413.68 184.09 413.69 187.03 413.69 189.94 413.69 192.82 413.69 195.68 413.69 198.5 413.69 201.31 413.69 204.09 413.69 206.86 413.69 209.61 413.69 212.34 413.69 215.06 413.69 217.76 413.69 220.46 413.69 223.15 413.69 225.83 413.69 228.51 413.69 231.18 413.69 233.85 413.69 L233.85 261.9Z" fill="#b5cdd6"/>
<path d="M104.13 261.9 104.13 264.2 104.13 266.49 104.13 268.8 104.13 271.1 104.13 273.41 104.13 275.73 104.13 278.06 104.13 280.39 104.13 282.74 104.14 285.1 104.14 287.48 104.14 289.87 104.14 292.29 104.14 294.72 104.15 297.17 104.15 299.65 104.15 302.15 104.16 304.67 104.16 307.23 104.17 309.82 104.18 312.44 104.19 315.1 104.2 317.79 104.22 320.52 104.24 323.3 104.26 326.12 104.29 328.98 104.33 331.89 104.37 334.85 104.43 337.87 104.51 340.93 104.6 344.04 104.72 347.21 104.88 350.41 105.08 353.66 105.34 356.95 105.68 360.24 106.12 363.54 106.69 366.81 107.42 370.01 108.37 373.1 109.56 376.02 111.04 378.72 112.83 381.16 114.95 383.28 117.38 385.08 120.07 386.56 122.99 387.76 126.07 388.71 129.26 389.44 132.51 390.02 135.8 390.46 139.09 390.8 142.36 391.06 145.6 391.26 148.8 391.42 151.95 391.54 155.06 391.63 158.11 391.71 161.11 391.77 164.07 391.81 166.97 391.85 169.82 391.88 172.63 391.9 175.4 391.92 178.13 391.94 180.81 391.95 183.46 391.96 186.07 391.97 188.65 391.98 191.2 391.98 193.72 391.99 196.22 391.99 198.69 391.99 201.13 392 203.56 392 205.96 392 208.35 392 210.72 392 213.07 392.01 215.41 392.01 217.74 392.01 220.06 392.01 222.37 392.01 224.68 392.01 226.98 392.01 229.27 392.01 231.56 392.01 233.85 392.01 L233.85 261.9Z" fill="#a3c3cd"/>
<path d="M125.75 261.9 125.75 263.81 125.75 265.73 125.75 267.65 125.75 269.57 125.76 271.49 125.76 273.42 125.76 275.36 125.76 277.31 125.77 279.27 125.77 281.23 125.77 283.21 125.78 285.21 125.78 287.22 125.79 289.24 125.79 291.28 125.8 293.34 125.81 295.43 125.82 297.53 125.84 299.66 125.85 301.81 125.87 303.99 125.89 306.19 125.92 308.43 125.95 310.7 125.98 313 126.03 315.33 126.08 317.7 126.15 320.1 126.22 322.54 126.32 325.02 126.43 327.53 126.57 330.08 126.74 332.66 126.96 335.26 127.22 337.89 127.54 340.52 127.95 343.16 128.44 345.78 129.05 348.36 129.8 350.87 130.71 353.3 131.81 355.59 133.11 357.73 134.63 359.68 136.37 361.42 138.31 362.94 140.44 364.25 142.73 365.35 145.14 366.26 147.65 367.01 150.22 367.63 152.83 368.12 155.46 368.53 158.09 368.85 160.71 369.11 163.31 369.33 165.88 369.5 168.41 369.64 170.92 369.76 173.39 369.85 175.82 369.93 178.22 369.99 180.58 370.05 182.91 370.09 185.2 370.13 187.46 370.16 189.69 370.18 191.89 370.2 194.06 370.22 196.21 370.24 198.33 370.25 200.43 370.26 202.5 370.27 204.56 370.28 206.59 370.29 208.61 370.29 210.61 370.3 212.6 370.3 214.57 370.31 216.54 370.31 218.49 370.31 220.43 370.31 222.36 370.32 224.29 370.32 226.21 370.32 228.12 370.32 230.03 370.32 231.94 370.32 233.85 370.32 L233.85 261.9Z" fill="#91b9c5"/>
<path d="M147.37 261.9 147.37 263.43 147.38 264.96 147.38 266.5 147.39 268.03 147.39 269.57 147.4 271.12 147.4 272.67 147.41 274.22 147.42 275.79 147.43 277.36 147.44 278.94 147.45 280.53 147.47 282.14 147.48 283.75 147.5 285.38 147.52 287.02 147.54 288.68 147.57 290.36 147.59 292.05 147.63 293.76 147.67 295.49 147.71 297.24 147.76 299.01 147.82 300.81 147.88 302.62 147.96 304.46 148.05 306.32 148.16 308.21 148.28 310.12 148.42 312.04 148.59 313.99 148.79 315.96 149.02 317.94 149.29 319.93 149.62 321.93 150 323.92 150.45 325.9 150.97 327.85 151.59 329.76 152.31 331.63 153.14 333.42 154.1 335.12 155.19 336.73 156.41 338.21 157.76 339.57 159.25 340.8 160.84 341.89 162.55 342.85 164.33 343.69 166.19 344.41 168.1 345.03 170.05 345.56 172.02 346.01 174 346.39 175.99 346.71 177.98 346.98 179.95 347.22 181.91 347.42 183.86 347.58 185.78 347.73 187.68 347.85 189.56 347.96 191.42 348.05 193.25 348.12 195.06 348.19 196.85 348.25 198.61 348.3 200.36 348.34 202.08 348.38 203.79 348.41 205.48 348.44 207.15 348.47 208.8 348.49 210.44 348.51 212.06 348.53 213.67 348.54 215.27 348.56 216.86 348.57 218.44 348.58 220 348.59 221.56 348.6 223.12 348.61 224.66 348.61 226.2 348.62 227.74 348.62 229.27 348.63 230.8 348.63 232.32 348.64 233.85 348.64 L233.85 261.9Z" fill="#84b1c0"/>
<path d="M168.99 261.9 169 263.05 169.01 264.2 169.03 265.35 169.04 266.5 169.06 267.65 169.08 268.81 169.1 269.97 169.12 271.13 169.14 272.3 169.17 273.47 169.2 274.65 169.23 275.84 169.26 277.03 169.3 278.23 169.34 279.44 169.38 280.66 169.43 281.89 169.48 283.13 169.55 284.38 169.61 285.64 169.69 286.91 169.77 288.19 169.86 289.49 169.96 290.79 170.07 292.11 170.2 293.44 170.34 294.78 170.5 296.13 170.68 297.49 170.88 298.86 171.11 300.23 171.36 301.61 171.65 302.99 171.97 304.37 172.33 305.74 172.74 307.1 173.19 308.44 173.7 309.76 174.27 311.05 174.9 312.31 175.6 313.52 176.36 314.68 177.2 315.79 178.1 316.84 179.08 317.81 180.12 318.72 181.22 319.56 182.38 320.33 183.59 321.03 184.84 321.66 186.13 322.23 187.45 322.74 188.79 323.2 190.14 323.6 191.51 323.97 192.88 324.29 194.26 324.58 195.63 324.83 197 325.06 198.36 325.26 199.72 325.44 201.07 325.6 202.4 325.74 203.73 325.87 205.04 325.98 206.35 326.08 207.64 326.17 208.92 326.26 210.18 326.33 211.44 326.4 212.69 326.46 213.92 326.51 215.14 326.56 216.36 326.61 217.57 326.65 218.76 326.68 219.95 326.72 221.14 326.75 222.31 326.78 223.48 326.8 224.65 326.83 225.81 326.85 226.97 326.87 228.12 326.88 229.27 326.9 230.41 326.92 231.56 326.93 232.71 326.94 233.85 326.95 L233.85 261.9Z" fill="#7facbf"/>
<path d="M190.61 261.9 190.65 262.66 190.68 263.43 190.72 264.19 190.77 264.96 190.81 265.72 190.86 266.48 190.91 267.25 190.97 268.01 191.02 268.78 191.08 269.55 191.15 270.32 191.22 271.09 191.29 271.87 191.37 272.65 191.45 273.43 191.54 274.21 191.64 275 191.74 275.79 191.85 276.58 191.96 277.38 192.09 278.18 192.22 278.98 192.37 279.78 192.52 280.59 192.69 281.4 192.87 282.21 193.06 283.02 193.26 283.83 193.48 284.64 193.72 285.45 193.98 286.26 194.25 287.07 194.55 287.86 194.86 288.66 195.2 289.44 195.56 290.22 195.95 290.98 196.36 291.73 196.8 292.46 197.27 293.18 197.77 293.88 198.29 294.55 198.84 295.21 199.41 295.84 200.01 296.44 200.64 297.02 201.29 297.57 201.97 298.09 202.66 298.59 203.38 299.06 204.11 299.5 204.86 299.91 205.62 300.3 206.39 300.66 207.17 301 207.96 301.32 208.76 301.62 209.56 301.89 210.37 302.15 211.17 302.39 211.98 302.61 212.79 302.81 213.6 303.01 214.41 303.19 215.22 303.35 216.02 303.51 216.82 303.65 217.62 303.79 218.42 303.91 219.21 304.03 220 304.14 220.79 304.24 221.57 304.34 222.36 304.42 223.13 304.51 223.91 304.59 224.68 304.66 225.45 304.73 226.22 304.8 226.99 304.86 227.75 304.91 228.52 304.97 229.28 305.02 230.04 305.07 230.8 305.11 231.56 305.16 232.33 305.2 233.09 305.23 233.85 305.27 L233.85 261.9Z" fill="#7ea9c1"/>
<path d="M212.23 261.9 212.31 262.28 212.4 262.66 212.49 263.04 212.57 263.41 212.67 263.78 212.76 264.15 212.86 264.51 212.96 264.88 213.06 265.24 213.16 265.6 213.27 265.96 213.38 266.31 213.5 266.67 213.62 267.02 213.74 267.37 213.86 267.72 213.99 268.06 214.12 268.41 214.25 268.75 214.39 269.09 214.54 269.43 214.68 269.76 214.83 270.1 214.99 270.43 215.15 270.76 215.31 271.09 215.48 271.41 215.66 271.73 215.83 272.05 216.02 272.37 216.21 272.68 216.4 272.99 216.6 273.3 216.8 273.6 217.01 273.9 217.22 274.2 217.44 274.49 217.66 274.78 217.89 275.07 218.12 275.35 218.36 275.63 218.6 275.9 218.85 276.17 219.11 276.43 219.36 276.69 219.63 276.94 219.89 277.19 220.17 277.44 220.44 277.67 220.72 277.91 221.01 278.14 221.29 278.36 221.59 278.58 221.88 278.79 222.18 279 222.49 279.21 222.79 279.4 223.1 279.6 223.41 279.79 223.73 279.97 224.05 280.15 224.37 280.32 224.69 280.49 225.02 280.66 225.35 280.82 225.68 280.97 226.01 281.12 226.34 281.27 226.68 281.41 227.02 281.55 227.36 281.69 227.71 281.82 228.05 281.95 228.4 282.07 228.75 282.2 229.1 282.31 229.45 282.43 229.8 282.54 230.16 282.65 230.52 282.75 230.88 282.86 231.24 282.96 231.61 283.05 231.98 283.15 232.35 283.24 232.72 283.33 233.09 283.42 233.47 283.5 233.85 283.58 L233.85 261.9Z" fill="#96b7d3"/>
<g fill="none" stroke="#d4e0e8" stroke-opacity="0.45" stroke-width="0.7">
<path d="M39.27 261.9 39.27 265.34 39.27 268.79 39.27 272.24 39.27 275.7 39.27 279.17 39.27 282.64 39.27 286.14 39.27 289.64 39.27 293.16 39.27 296.71 39.27 300.27 39.27 303.86 39.27 307.48 39.27 311.13 39.27 314.81 39.27 318.53 39.27 322.28 39.27 326.08 39.27 329.91 39.27 333.8 39.27 337.74 39.27 341.73 39.27 345.78 39.28 349.89 39.28 354.07 39.28 358.32 39.28 362.64 39.29 367.04 39.3 371.52 39.31 376.09 39.32 380.76 39.34 385.52 39.37 390.38 39.41 395.35 39.47 400.42 39.56 405.6 39.69 410.87 39.9 416.24 40.21 421.65 40.68 427.08 41.42 432.43 42.54 437.56 44.22 442.28 46.65 446.38 49.92 449.66 54.01 452.1 58.72 453.79 63.84 454.91 69.17 455.65 74.57 456.12 79.98 456.43 85.32 456.64 90.58 456.77 95.75 456.86 100.8 456.93 105.75 456.97 110.6 457 115.35 457.02 120 457.03 124.56 457.04 129.03 457.05 133.41 457.05 137.72 457.06 141.96 457.06 146.12 457.06 150.22 457.06 154.26 457.06 158.24 457.06 162.16 457.06 166.04 457.06 169.87 457.06 173.65 457.06 177.39 457.06 181.1 457.06 184.77 457.06 188.4 457.06 192.01 457.06 195.59 457.06 199.15 457.06 202.68 457.06 206.19 457.06 209.69 457.06 213.17 457.06 216.63 457.06 220.09 457.06 223.54 457.06 226.98 457.06 230.42 457.06 233.85 457.06"/>
<path d="M60.89 261.9 60.89 264.96 60.89 268.03 60.89 271.09 60.89 274.17 60.89 277.25 60.89 280.34 60.89 283.44 60.89 286.56 60.89 289.69 60.89 292.84 60.89 296.01 60.89 299.2 60.89 302.42 60.89 305.66 60.89 308.93 60.89 312.23 60.89 315.57 60.89 318.94 60.89 322.36 60.9 325.81 60.9 329.31 60.9 332.86 60.9 336.46 60.91 340.11 60.91 343.82 60.92 347.6 60.92 351.43 60.94 355.34 60.95 359.32 60.97 363.38 61 367.51 61.04 371.73 61.09 376.03 61.16 380.42 61.27 384.89 61.41 389.43 61.62 394.05 61.92 398.71 62.35 403.39 62.97 408.02 63.85 412.55 65.1 416.84 66.81 420.79 69.09 424.26 71.97 427.15 75.43 429.44 79.37 431.16 83.66 432.41 88.16 433.3 92.79 433.91 97.45 434.35 102.1 434.65 106.7 434.86 111.23 435 115.69 435.11 120.06 435.18 124.35 435.23 128.55 435.27 132.68 435.3 136.72 435.32 140.69 435.33 144.58 435.35 148.41 435.35 152.17 435.36 155.87 435.36 159.52 435.37 163.1 435.37 166.64 435.37 170.13 435.37 173.57 435.38 176.98 435.38 180.34 435.38 183.67 435.38 186.96 435.38 190.22 435.38 193.45 435.38 196.66 435.38 199.84 435.38 203 435.38 206.14 435.38 209.27 435.38 212.37 435.38 215.47 435.38 218.55 435.38 221.62 435.38 224.68 435.38 227.74 435.38 230.8 435.38 233.85 435.38"/>
<path d="M82.51 261.9 82.51 264.58 82.51 267.26 82.51 269.94 82.51 272.63 82.51 275.33 82.51 278.03 82.51 280.75 82.51 283.48 82.51 286.22 82.51 288.97 82.51 291.75 82.51 294.54 82.51 297.35 82.51 300.19 82.52 303.05 82.52 305.94 82.52 308.86 82.52 311.81 82.52 314.8 82.53 317.82 82.53 320.88 82.53 323.98 82.54 327.13 82.55 330.32 82.56 333.57 82.57 336.87 82.59 340.22 82.61 343.63 82.63 347.1 82.67 350.64 82.72 354.24 82.78 357.91 82.86 361.65 82.97 365.45 83.12 369.32 83.32 373.23 83.59 377.19 83.96 381.17 84.47 385.14 85.16 389.04 86.1 392.83 87.34 396.42 88.96 399.73 91.01 402.66 93.51 405.17 96.44 407.22 99.73 408.85 103.31 410.1 107.09 411.03 110.98 411.73 114.94 412.24 118.9 412.61 122.85 412.88 126.76 413.09 130.61 413.23 134.4 413.34 138.13 413.43 141.78 413.49 145.38 413.54 148.9 413.57 152.36 413.6 155.77 413.62 159.11 413.64 162.4 413.65 165.63 413.66 168.82 413.67 171.95 413.67 175.05 413.68 178.1 413.68 181.11 413.68 184.09 413.69 187.03 413.69 189.94 413.69 192.82 413.69 195.68 413.69 198.5 413.69 201.31 413.69 204.09 413.69 206.86 413.69 209.61 413.69 212.34 413.69 215.06 413.69 217.76 413.69 220.46 413.69 223.15 413.69 225.83 413.69 228.51 413.69 231.18 413.69 233.85 413.69"/>
<path d="M104.13 261.9 104.13 264.2 104.13 266.49 104.13 268.8 104.13 271.1 104.13 273.41 104.13 275.73 104.13 278.06 104.13 280.39 104.13 282.74 104.14 285.1 104.14 287.48 104.14 289.87 104.14 292.29 104.14 294.72 104.15 297.17 104.15 299.65 104.15 302.15 104.16 304.67 104.16 307.23 104.17 309.82 104.18 312.44 104.19 315.1 104.2 317.79 104.22 320.52 104.24 323.3 104.26 326.12 104.29 328.98 104.33 331.89 104.37 334.85 104.43 337.87 104.51 340.93 104.6 344.04 104.72 347.21 104.88 350.41 105.08 353.66 105.34 356.95 105.68 360.24 106.12 363.54 106.69 366.81 107.42 370.01 108.37 373.1 109.56 376.02 111.04 378.72 112.83 381.16 114.95 383.28 117.38 385.08 120.07 386.56 122.99 387.76 126.07 388.71 129.26 389.44 132.51 390.02 135.8 390.46 139.09 390.8 142.36 391.06 145.6 391.26 148.8 391.42 151.95 391.54 155.06 391.63 158.11 391.71 161.11 391.77 164.07 391.81 166.97 391.85 169.82 391.88 172.63 391.9 175.4 391.92 178.13 391.94 180.81 391.95 183.46 391.96 186.07 391.97 188.65 391.98 191.2 391.98 193.72 391.99 196.22 391.99 198.69 391.99 201.13 392 203.56 392 205.96 392 208.35 392 210.72 392 213.07 392.01 215.41 392.01 217.74 392.01 220.06 392.01 222.37 392.01 224.68 392.01 226.98 392.01 229.27 392.01 231.56 392.01 233.85 392.01"/>
<path d="M125.75 261.9 125.75 263.81 125.75 265.73 125.75 267.65 125.75 269.57 125.76 271.49 125.76 273.42 125.76 275.36 125.76 277.31 125.77 279.27 125.77 281.23 125.77 283.21 125.78 285.21 125.78 287.22 125.79 289.24 125.79 291.28 125.8 293.34 125.81 295.43 125.82 297.53 125.84 299.66 125.85 301.81 125.87 303.99 125.89 306.19 125.92 308.43 125.95 310.7 125.98 313 126.03 315.33 126.08 317.7 126.15 320.1 126.22 322.54 126.32 325.02 126.43 327.53 126.57 330.08 126.74 332.66 126.96 335.26 127.22 337.89 127.54 340.52 127.95 343.16 128.44 345.78 129.05 348.36 129.8 350.87 130.71 353.3 131.81 355.59 133.11 357.73 134.63 359.68 136.37 361.42 138.31 362.94 140.44 364.25 142.73 365.35 145.14 366.26 147.65 367.01 150.22 367.63 152.83 368.12 155.46 368.53 158.09 368.85 160.71 369.11 163.31 369.33 165.88 369.5 168.41 369.64 170.92 369.76 173.39 369.85 175.82 369.93 178.22 369.99 180.58 370.05 182.91 370.09 185.2 370.13 187.46 370.16 189.69 370.18 191.89 370.2 194.06 370.22 196.21 370.24 198.33 370.25 200.43 370.26 202.5 370.27 204.56 370.28 206.59 370.29 208.61 370.29 210.61 370.3 212.6 370.3 214.57 370.31 216.54 370.31 218.49 370.31 220.43 370.31 222.36 370.32 224.29 370.32 226.21 370.32 228.12 370.32 230.03 370.32 231.94 370.32 233.85 370.32"/>
<path d="M147.37 261.9 147.37 263.43 147.38 264.96 147.38 266.5 147.39 268.03 147.39 269.57 147.4 271.12 147.4 272.67 147.41 274.22 147.42 275.79 147.43 277.36 147.44 278.94 147.45 280.53 147.47 282.14 147.48 283.75 147.5 285.38 147.52 287.02 147.54 288.68 147.57 290.36 147.59 292.05 147.63 293.76 147.67 295.49 147.71 297.24 147.76 299.01 147.82 300.81 147.88 302.62 147.96 304.46 148.05 306.32 148.16 308.21 148.28 310.12 148.42 312.04 148.59 313.99 148.79 315.96 149.02 317.94 149.29 319.93 149.62 321.93 150 323.92 150.45 325.9 150.97 327.85 151.59 329.76 152.31 331.63 153.14 333.42 154.1 335.12 155.19 336.73 156.41 338.21 157.76 339.57 159.25 340.8 160.84 341.89 162.55 342.85 164.33 343.69 166.19 344.41 168.1 345.03 170.05 345.56 172.02 346.01 174 346.39 175.99 346.71 177.98 346.98 179.95 347.22 181.91 347.42 183.86 347.58 185.78 347.73 187.68 347.85 189.56 347.96 191.42 348.05 193.25 348.12 195.06 348.19 196.85 348.25 198.61 348.3 200.36 348.34 202.08 348.38 203.79 348.41 205.48 348.44 207.15 348.47 208.8 348.49 210.44 348.51 212.06 348.53 213.67 348.54 215.27 348.56 216.86 348.57 218.44 348.58 220 348.59 221.56 348.6 223.12 348.61 224.66 348.61 226.2 348.62 227.74 348.62 229.27 348.63 230.8 348.63 232.32 348.64 233.85 348.64"/>
<path d="M168.99 261.9 169 263.05 169.01 264.2 169.03 265.35 169.04 266.5 169.06 267.65 169.08 268.81 169.1 269.97 169.12 271.13 169.14 272.3 169.17 273.47 169.2 274.65 169.23 275.84 169.26 277.03 169.3 278.23 169.34 279.44 169.38 280.66 169.43 281.89 169.48 283.13 169.55 284.38 169.61 285.64 169.69 286.91 169.77 288.19 169.86 289.49 169.96 290.79 170.07 292.11 170.2 293.44 170.34 294.78 170.5 296.13 170.68 297.49 170.88 298.86 171.11 300.23 171.36 301.61 171.65 302.99 171.97 304.37 172.33 305.74 172.74 307.1 173.19 308.44 173.7 309.76 174.27 311.05 174.9 312.31 175.6 313.52 176.36 314.68 177.2 315.79 178.1 316.84 179.08 317.81 180.12 318.72 181.22 319.56 182.38 320.33 183.59 321.03 184.84 321.66 186.13 322.23 187.45 322.74 188.79 323.2 190.14 323.6 191.51 323.97 192.88 324.29 194.26 324.58 195.63 324.83 197 325.06 198.36 325.26 199.72 325.44 201.07 325.6 202.4 325.74 203.73 325.87 205.04 325.98 206.35 326.08 207.64 326.17 208.92 326.26 210.18 326.33 211.44 326.4 212.69 326.46 213.92 326.51 215.14 326.56 216.36 326.61 217.57 326.65 218.76 326.68 219.95 326.72 221.14 326.75 222.31 326.78 223.48 326.8 224.65 326.83 225.81 326.85 226.97 326.87 228.12 326.88 229.27 326.9 230.41 326.92 231.56 326.93 232.71 326.94 233.85 326.95"/>
<path d="M190.61 261.9 190.65 262.66 190.68 263.43 190.72 264.19 190.77 264.96 190.81 265.72 190.86 266.48 190.91 267.25 190.97 268.01 191.02 268.78 191.08 269.55 191.15 270.32 191.22 271.09 191.29 271.87 191.37 272.65 191.45 273.43 191.54 274.21 191.64 275 191.74 275.79 191.85 276.58 191.96 277.38 192.09 278.18 192.22 278.98 192.37 279.78 192.52 280.59 192.69 281.4 192.87 282.21 193.06 283.02 193.26 283.83 193.48 284.64 193.72 285.45 193.98 286.26 194.25 287.07 194.55 287.86 194.86 288.66 195.2 289.44 195.56 290.22 195.95 290.98 196.36 291.73 196.8 292.46 197.27 293.18 197.77 293.88 198.29 294.55 198.84 295.21 199.41 295.84 200.01 296.44 200.64 297.02 201.29 297.57 201.97 298.09 202.66 298.59 203.38 299.06 204.11 299.5 204.86 299.91 205.62 300.3 206.39 300.66 207.17 301 207.96 301.32 208.76 301.62 209.56 301.89 210.37 302.15 211.17 302.39 211.98 302.61 212.79 302.81 213.6 303.01 214.41 303.19 215.22 303.35 216.02 303.51 216.82 303.65 217.62 303.79 218.42 303.91 219.21 304.03 220 304.14 220.79 304.24 221.57 304.34 222.36 304.42 223.13 304.51 223.91 304.59 224.68 304.66 225.45 304.73 226.22 304.8 226.99 304.86 227.75 304.91 228.52 304.97 229.28 305.02 230.04 305.07 230.8 305.11 231.56 305.16 232.33 305.2 233.09 305.23 233.85 305.27"/>
<path d="M212.23 261.9 212.31 262.28 212.4 262.66 212.49 263.04 212.57 263.41 212.67 263.78 212.76 264.15 212.86 264.51 212.96 264.88 213.06 265.24 213.16 265.6 213.27 265.96 213.38 266.31 213.5 266.67 213.62 267.02 213.74 267.37 213.86 267.72 213.99 268.06 214.12 268.41 214.25 268.75 214.39 269.09 214.54 269.43 214.68 269.76 214.83 270.1 214.99 270.43 215.15 270.76 215.31 271.09 215.48 271.41 215.66 271.73 215.83 272.05 216.02 272.37 216.21 272.68 216.4 272.99 216.6 273.3 216.8 273.6 217.01 273.9 217.22 274.2 217.44 274.49 217.66 274.78 217.89 275.07 218.12 275.35 218.36 275.63 218.6 275.9 218.85 276.17 219.11 276.43 219.36 276.69 219.63 276.94 219.89 277.19 220.17 277.44 220.44 277.67 220.72 277.91 221.01 278.14 221.29 278.36 221.59 278.58 221.88 278.79 222.18 279 222.49 279.21 222.79 279.4 223.1 279.6 223.41 279.79 223.73 279.97 224.05 280.15 224.37 280.32 224.69 280.49 225.02 280.66 225.35 280.82 225.68 280.97 226.01 281.12 226.34 281.27 226.68 281.41 227.02 281.55 227.36 281.69 227.71 281.82 228.05 281.95 228.4 282.07 228.75 282.2 229.1 282.31 229.45 282.43 229.8 282.54 230.16 282.65 230.52 282.75 230.88 282.86 231.24 282.96 231.61 283.05 231.98 283.15 232.35 283.24 232.72 283.33 233.09 283.42 233.47 283.5 233.85 283.58"/>
</g>
<clipPath id="c279"><rect x="17.35" y="261.6" width="216.8" height="217.45"/></clipPath>
<g class="cl" opacity="0.6"><text x="39.5" y="266.61">0.1</text><text x="168.9" y="268.11">0.7</text><text x="212.3" y="267.11">0.9</text><text x="209.4" y="304.71">0.8</text><text x="104.2" y="311.61">0.4</text><text x="232.1" y="351.61">0.6</text><text x="145.7" y="369.31">0.5</text><text x="101.7" y="412.31">0.3</text><text x="230.1" y="438.51">0.2</text><text x="32.6" y="480.91">0</text></g>
<g class="cl" clip-path="url(#c279)"><text x="39.5" y="266.61">0.1</text><text x="168.9" y="268.11">0.7</text><text x="212.3" y="267.11">0.9</text><text x="209.4" y="304.71">0.8</text><text x="104.2" y="311.61">0.4</text><text x="232.1" y="351.61">0.6</text><text x="145.7" y="369.31">0.5</text><text x="101.7" y="412.31">0.3</text><text x="230.1" y="438.51">0.2</text><text x="32.6" y="480.91">0</text></g>
<rect x="13.25" y="257.4" width="225.15" height="225.9" fill="none" stroke="#d4d4d4" stroke-width="1.0"/>
<g class="tk">
<text x="17.65" y="491.1" text-anchor="middle">0</text>
<text x="12.4" y="481.25" text-anchor="end">0</text>
<text x="60.89" y="491.1" text-anchor="middle">0.2</text>
<text x="12.4" y="437.88" text-anchor="end">0.2</text>
<text x="104.13" y="491.1" text-anchor="middle">0.4</text>
<text x="12.4" y="394.51" text-anchor="end">0.4</text>
<text x="147.37" y="491.1" text-anchor="middle">0.6</text>
<text x="12.4" y="351.14" text-anchor="end">0.6</text>
<text x="190.61" y="491.1" text-anchor="middle">0.8</text>
<text x="12.4" y="307.77" text-anchor="end">0.8</text>
<text x="233.85" y="491.1" text-anchor="middle">1</text>
<text x="12.4" y="264.4" text-anchor="end">1</text>
</g>
<text class="ti" x="125.75" y="255.55" text-anchor="middle">Contours for Copula at <tspan font-style="italic">θ</tspan> = 15, <tspan font-style="italic">τ</tspan> = 0.76</text>
<rect x="325.8" y="261.9" width="216" height="216.85" fill="#b6c3e0"/>
<path d="M347.4 261.9 347.4 265.34 347.4 268.79 347.4 272.24 347.4 275.7 347.4 279.17 347.4 282.64 347.4 286.14 347.4 289.64 347.4 293.16 347.4 296.71 347.4 300.27 347.4 303.86 347.4 307.48 347.4 311.13 347.4 314.81 347.4 318.53 347.4 322.28 347.4 326.08 347.4 329.92 347.4 333.8 347.4 337.74 347.4 341.73 347.4 345.78 347.4 349.9 347.4 354.07 347.4 358.32 347.4 362.65 347.4 367.05 347.4 371.54 347.4 376.11 347.4 380.79 347.4 385.56 347.4 390.44 347.4 395.44 347.4 400.56 347.4 405.81 347.4 411.2 347.4 416.73 347.41 422.42 347.43 428.27 347.48 434.26 347.65 440.33 348.18 446.26 349.7 451.38 353.06 454.76 358.17 456.28 364.07 456.82 370.12 456.99 376.09 457.04 381.91 457.06 387.57 457.06 393.09 457.06 398.45 457.06 403.68 457.06 408.78 457.06 413.76 457.06 418.62 457.06 423.38 457.06 428.03 457.06 432.59 457.06 437.06 457.06 441.45 457.06 445.75 457.06 449.99 457.06 454.15 457.06 458.25 457.06 462.28 457.06 466.26 457.06 470.18 457.06 474.05 457.06 477.88 457.06 481.66 457.06 485.4 457.06 489.1 457.06 492.76 457.06 496.4 457.06 500 457.06 503.58 457.06 507.13 457.06 510.66 457.06 514.17 457.06 517.66 457.06 521.14 457.06 524.6 457.06 528.05 457.06 531.5 457.06 534.94 457.06 538.37 457.06 541.8 457.06 L541.8 261.9Z" fill="#c4d0e1"/>
<path d="M369 261.9 369 264.96 369 268.03 369 271.09 369 274.17 369 277.25 369 280.34 369 283.44 369 286.56 369 289.69 369 292.84 369 296.01 369 299.2 369 302.42 369 305.66 369 308.93 369 312.23 369 315.57 369 318.94 369 322.36 369 325.81 369 329.31 369 332.86 369 336.46 369 340.12 369 343.83 369 347.61 369 351.45 369 355.37 369 359.36 369 363.42 369 367.58 369 371.82 369 376.16 369 380.6 369 385.15 369 389.82 369 394.61 369.01 399.53 369.02 404.58 369.05 409.76 369.13 415.06 369.35 420.39 369.96 425.52 371.46 429.92 374.44 432.91 378.82 434.42 383.93 435.03 389.24 435.25 394.52 435.33 399.68 435.36 404.71 435.37 409.61 435.38 414.38 435.38 419.03 435.38 423.56 435.38 427.99 435.38 432.31 435.38 436.54 435.38 440.67 435.38 444.73 435.38 448.7 435.38 452.6 435.38 456.43 435.38 460.19 435.38 463.89 435.38 467.53 435.38 471.12 435.38 474.65 435.38 478.14 435.38 481.58 435.38 484.98 435.38 488.34 435.38 491.66 435.38 494.95 435.38 498.21 435.38 501.44 435.38 504.64 435.38 507.82 435.38 510.98 435.38 514.12 435.38 517.24 435.38 520.34 435.38 523.43 435.38 526.51 435.38 529.58 435.38 532.64 435.38 535.7 435.38 538.75 435.38 541.8 435.38 L541.8 261.9Z" fill="#c2d2de"/>
<path d="M390.6 261.9 390.6 264.58 390.6 267.26 390.6 269.94 390.6 272.63 390.6 275.33 390.6 278.03 390.6 280.75 390.6 283.48 390.6 286.22 390.6 288.97 390.6 291.75 390.6 294.54 390.6 297.35 390.6 300.19 390.6 303.05 390.6 305.94 390.6 308.86 390.6 311.81 390.6 314.8 390.6 317.82 390.6 320.89 390.6 323.99 390.6 327.14 390.6 330.34 390.6 333.59 390.6 336.9 390.6 340.26 390.6 343.68 390.6 347.17 390.6 350.73 390.6 354.37 390.6 358.08 390.6 361.88 390.6 365.77 390.6 369.75 390.6 373.83 390.61 378.02 390.62 382.31 390.64 386.72 390.69 391.24 390.8 395.83 391.09 400.41 391.75 404.76 393.2 408.48 395.8 411.09 399.5 412.54 403.83 413.21 408.39 413.49 412.97 413.61 417.46 413.66 421.86 413.68 426.14 413.69 430.31 413.69 434.38 413.69 438.34 413.69 442.21 413.69 446 413.69 449.69 413.69 453.31 413.69 456.86 413.69 460.34 413.69 463.75 413.69 467.1 413.69 470.39 413.69 473.63 413.69 476.81 413.69 479.95 413.69 483.04 413.69 486.1 413.69 489.11 413.69 492.08 413.69 495.02 413.69 497.93 413.69 500.81 413.69 503.66 413.69 506.49 413.69 509.29 413.69 512.07 413.69 514.83 413.69 517.58 413.69 520.31 413.69 523.02 413.69 525.73 413.69 528.42 413.69 531.11 413.69 533.79 413.69 536.46 413.69 539.13 413.69 541.8 413.69 L541.8 261.9Z" fill="#b5cdd6"/>
<path d="M412.2 261.9 412.2 264.2 412.2 266.49 412.2 268.8 412.2 271.1 412.2 273.41 412.2 275.73 412.2 278.06 412.2 280.39 412.2 282.74 412.2 285.11 412.2 287.48 412.2 289.88 412.2 292.29 412.2 294.72 412.2 297.17 412.2 299.65 412.2 302.15 412.2 304.68 412.2 307.24 412.2 309.83 412.2 312.46 412.2 315.12 412.2 317.82 412.2 320.56 412.2 323.35 412.2 326.18 412.2 329.06 412.2 332 412.2 334.99 412.2 338.04 412.2 341.16 412.2 344.34 412.2 347.6 412.2 350.93 412.21 354.34 412.21 357.83 412.22 361.42 412.24 365.09 412.28 368.86 412.36 372.69 412.52 376.57 412.87 380.39 413.59 383.97 414.95 387.02 417.17 389.25 420.21 390.61 423.78 391.33 427.58 391.69 431.44 391.85 435.26 391.93 439.01 391.97 442.67 391.99 446.24 392 449.72 392 453.12 392.01 456.44 392.01 459.68 392.01 462.85 392.01 465.96 392.01 469 392.01 471.98 392.01 474.9 392.01 477.77 392.01 480.59 392.01 483.37 392.01 486.1 392.01 488.79 392.01 491.44 392.01 494.05 392.01 496.63 392.01 499.18 392.01 501.7 392.01 504.2 392.01 506.66 392.01 509.11 392.01 511.53 392.01 513.93 392.01 516.32 392.01 518.69 392.01 521.04 392.01 523.38 392.01 525.71 392.01 528.02 392.01 530.33 392.01 532.64 392.01 534.93 392.01 537.22 392.01 539.51 392.01 541.8 392.01 L541.8 261.9Z" fill="#a3c3cd"/>
<path d="M433.8 261.9 433.8 263.81 433.8 265.73 433.8 267.65 433.8 269.57 433.8 271.49 433.8 273.42 433.8 275.36 433.8 277.31 433.8 279.27 433.8 281.24 433.8 283.22 433.8 285.21 433.8 287.22 433.8 289.25 433.8 291.29 433.8 293.36 433.8 295.44 433.8 297.55 433.8 299.69 433.8 301.85 433.8 304.03 433.8 306.25 433.8 308.5 433.8 310.79 433.8 313.11 433.8 315.47 433.8 317.87 433.8 320.32 433.8 322.81 433.8 325.35 433.8 327.95 433.8 330.6 433.81 333.31 433.81 336.08 433.82 338.92 433.83 341.83 433.85 344.81 433.89 347.85 433.95 350.96 434.08 354.1 434.31 357.24 434.73 360.3 435.47 363.14 436.7 365.57 438.54 367.41 440.95 368.65 443.78 369.4 446.83 369.82 449.96 370.05 453.09 370.17 456.19 370.24 459.22 370.28 462.18 370.3 465.08 370.31 467.91 370.32 470.67 370.32 473.37 370.32 476.01 370.32 478.6 370.32 481.13 370.32 483.61 370.32 486.05 370.32 488.44 370.32 490.79 370.32 493.1 370.32 495.38 370.32 497.62 370.32 499.83 370.32 502.01 370.32 504.16 370.32 506.29 370.32 508.39 370.32 510.46 370.32 512.52 370.32 514.56 370.32 516.58 370.32 518.58 370.32 520.57 370.32 522.54 370.32 524.5 370.32 526.45 370.32 528.39 370.32 530.32 370.32 532.24 370.32 534.16 370.32 536.08 370.32 537.99 370.32 539.89 370.32 541.8 370.32 L541.8 261.9Z" fill="#91b9c5"/>
<path d="M455.4 261.9 455.4 263.43 455.4 264.96 455.4 266.5 455.4 268.03 455.4 269.57 455.4 271.12 455.4 272.67 455.4 274.23 455.4 275.8 455.4 277.37 455.4 278.95 455.4 280.55 455.4 282.16 455.4 283.78 455.4 285.42 455.4 287.07 455.4 288.74 455.4 290.42 455.4 292.13 455.4 293.86 455.4 295.61 455.4 297.38 455.4 299.18 455.4 301.01 455.4 302.87 455.4 304.75 455.4 306.68 455.4 308.63 455.4 310.62 455.41 312.66 455.41 314.73 455.42 316.85 455.42 319.02 455.43 321.23 455.45 323.49 455.48 325.8 455.52 328.16 455.6 330.56 455.71 332.99 455.89 335.43 456.19 337.83 456.66 340.14 457.39 342.27 458.46 344.1 459.92 345.56 461.75 346.64 463.86 347.37 466.16 347.85 468.56 348.14 470.99 348.33 473.41 348.44 475.8 348.51 478.15 348.56 480.45 348.59 482.7 348.61 484.91 348.62 487.06 348.62 489.17 348.63 491.24 348.63 493.27 348.64 495.25 348.64 497.2 348.64 499.11 348.64 500.99 348.64 502.84 348.64 504.66 348.64 506.46 348.64 508.23 348.64 509.97 348.64 511.69 348.64 513.39 348.64 515.07 348.64 516.73 348.64 518.38 348.64 520.01 348.64 521.62 348.64 523.22 348.64 524.81 348.64 526.39 348.64 527.96 348.64 529.52 348.64 531.07 348.64 532.62 348.64 534.16 348.64 535.69 348.64 537.22 348.64 538.75 348.64 540.27 348.64 541.8 348.64 L541.8 261.9Z" fill="#84b1c0"/>
<path d="M477 261.9 477 263.05 477 264.2 477 265.35 477 266.5 477 267.66 477 268.81 477 269.98 477 271.15 477 272.32 477 273.5 477 274.69 477 275.89 477 277.09 477 278.31 477 279.54 477 280.78 477 282.03 477 283.29 477 284.57 477 285.87 477 287.18 477 288.51 477.01 289.86 477.01 291.23 477.01 292.62 477.01 294.03 477.02 295.47 477.02 296.94 477.03 298.43 477.04 299.95 477.05 301.5 477.07 303.08 477.09 304.69 477.12 306.33 477.17 308 477.23 309.7 477.32 311.42 477.44 313.16 477.62 314.9 477.87 316.62 478.22 318.29 478.71 319.88 479.37 321.34 480.23 322.63 481.31 323.71 482.59 324.58 484.04 325.24 485.63 325.73 487.3 326.08 489.01 326.33 490.74 326.51 492.47 326.64 494.19 326.73 495.88 326.79 497.54 326.83 499.18 326.87 500.78 326.89 502.36 326.91 503.9 326.92 505.41 326.93 506.9 326.93 508.36 326.94 509.79 326.94 511.2 326.95 512.59 326.95 513.95 326.95 515.3 326.95 516.62 326.95 517.93 326.95 519.22 326.95 520.49 326.95 521.75 326.95 523 326.95 524.23 326.95 525.45 326.95 526.67 326.95 527.87 326.95 529.06 326.95 530.24 326.95 531.42 326.95 532.59 326.95 533.75 326.95 534.91 326.95 536.07 326.95 537.22 326.95 538.37 326.95 539.51 326.95 540.66 326.95 541.8 326.95 L541.8 261.9Z" fill="#7facbf"/>
<path d="M498.6 261.9 498.6 262.67 498.6 263.43 498.6 264.2 498.6 264.97 498.6 265.74 498.6 266.51 498.6 267.29 498.6 268.06 498.6 268.85 498.61 269.63 498.61 270.43 498.61 271.22 498.61 272.03 498.61 272.84 498.61 273.65 498.62 274.48 498.62 275.31 498.62 276.15 498.63 277 498.63 277.87 498.64 278.74 498.65 279.62 498.65 280.52 498.66 281.43 498.68 282.35 498.69 283.28 498.71 284.23 498.73 285.19 498.76 286.17 498.79 287.17 498.83 288.18 498.88 289.2 498.95 290.24 499.02 291.29 499.12 292.34 499.24 293.41 499.39 294.47 499.58 295.53 499.81 296.57 500.1 297.59 500.45 298.57 500.88 299.5 501.4 300.37 502 301.15 502.7 301.85 503.48 302.46 504.34 302.98 505.27 303.41 506.25 303.77 507.26 304.06 508.3 304.29 509.36 304.48 510.42 304.63 511.48 304.75 512.53 304.84 513.57 304.92 514.61 304.98 515.63 305.04 516.63 305.08 517.62 305.11 518.6 305.14 519.56 305.16 520.5 305.18 521.43 305.19 522.35 305.2 523.26 305.22 524.15 305.22 525.03 305.23 525.9 305.24 526.75 305.24 527.6 305.25 528.44 305.25 529.27 305.25 530.09 305.26 530.91 305.26 531.71 305.26 532.51 305.26 533.31 305.26 534.1 305.26 534.88 305.27 535.66 305.27 536.44 305.27 537.21 305.27 537.98 305.27 538.75 305.27 539.51 305.27 540.27 305.27 541.04 305.27 541.8 305.27 L541.8 261.9Z" fill="#7ea9c1"/>
<path d="M520.2 261.9 520.21 262.28 520.22 262.67 520.22 263.05 520.23 263.43 520.24 263.81 520.25 264.2 520.26 264.58 520.28 264.97 520.29 265.36 520.3 265.75 520.32 266.14 520.34 266.53 520.35 266.93 520.37 267.33 520.39 267.73 520.42 268.13 520.44 268.53 520.47 268.94 520.5 269.35 520.53 269.77 520.57 270.18 520.61 270.6 520.65 271.03 520.7 271.45 520.75 271.88 520.81 272.31 520.87 272.75 520.94 273.18 521.02 273.62 521.1 274.06 521.2 274.5 521.3 274.94 521.42 275.38 521.54 275.82 521.68 276.25 521.84 276.68 522.01 277.1 522.19 277.52 522.39 277.93 522.61 278.32 522.85 278.71 523.11 279.07 523.39 279.43 523.69 279.76 524.01 280.08 524.34 280.38 524.69 280.66 525.06 280.92 525.44 281.16 525.84 281.38 526.24 281.59 526.66 281.77 527.08 281.94 527.51 282.1 527.94 282.24 528.37 282.36 528.81 282.48 529.25 282.58 529.69 282.68 530.13 282.76 530.56 282.84 531 282.91 531.43 282.97 531.86 283.03 532.29 283.08 532.71 283.13 533.13 283.17 533.55 283.21 533.96 283.25 534.38 283.28 534.79 283.31 535.19 283.34 535.6 283.37 536 283.39 536.4 283.41 536.79 283.43 537.18 283.45 537.58 283.47 537.97 283.48 538.35 283.5 538.74 283.51 539.13 283.52 539.51 283.53 539.89 283.54 540.27 283.55 540.66 283.56 541.04 283.57 541.42 283.58 541.8 283.58 L541.8 261.9Z" fill="#96b7d3"/>
<g fill="none" stroke="#d4e0e8" stroke-opacity="0.45" stroke-width="0.7">
<path d="M347.4 261.9 347.4 265.34 347.4 268.79 347.4 272.24 347.4 275.7 347.4 279.17 347.4 282.64 347.4 286.14 347.4 289.64 347.4 293.16 347.4 296.71 347.4 300.27 347.4 303.86 347.4 307.48 347.4 311.13 347.4 314.81 347.4 318.53 347.4 322.28 347.4 326.08 347.4 329.92 347.4 333.8 347.4 337.74 347.4 341.73 347.4 345.78 347.4 349.9 347.4 354.07 347.4 358.32 347.4 362.65 347.4 367.05 347.4 371.54 347.4 376.11 347.4 380.79 347.4 385.56 347.4 390.44 347.4 395.44 347.4 400.56 347.4 405.81 347.4 411.2 347.4 416.73 347.41 422.42 347.43 428.27 347.48 434.26 347.65 440.33 348.18 446.26 349.7 451.38 353.06 454.76 358.17 456.28 364.07 456.82 370.12 456.99 376.09 457.04 381.91 457.06 387.57 457.06 393.09 457.06 398.45 457.06 403.68 457.06 408.78 457.06 413.76 457.06 418.62 457.06 423.38 457.06 428.03 457.06 432.59 457.06 437.06 457.06 441.45 457.06 445.75 457.06 449.99 457.06 454.15 457.06 458.25 457.06 462.28 457.06 466.26 457.06 470.18 457.06 474.05 457.06 477.88 457.06 481.66 457.06 485.4 457.06 489.1 457.06 492.76 457.06 496.4 457.06 500 457.06 503.58 457.06 507.13 457.06 510.66 457.06 514.17 457.06 517.66 457.06 521.14 457.06 524.6 457.06 528.05 457.06 531.5 457.06 534.94 457.06 538.37 457.06 541.8 457.06"/>
<path d="M369 261.9 369 264.96 369 268.03 369 271.09 369 274.17 369 277.25 369 280.34 369 283.44 369 286.56 369 289.69 369 292.84 369 296.01 369 299.2 369 302.42 369 305.66 369 308.93 369 312.23 369 315.57 369 318.94 369 322.36 369 325.81 369 329.31 369 332.86 369 336.46 369 340.12 369 343.83 369 347.61 369 351.45 369 355.37 369 359.36 369 363.42 369 367.58 369 371.82 369 376.16 369 380.6 369 385.15 369 389.82 369 394.61 369.01 399.53 369.02 404.58 369.05 409.76 369.13 415.06 369.35 420.39 369.96 425.52 371.46 429.92 374.44 432.91 378.82 434.42 383.93 435.03 389.24 435.25 394.52 435.33 399.68 435.36 404.71 435.37 409.61 435.38 414.38 435.38 419.03 435.38 423.56 435.38 427.99 435.38 432.31 435.38 436.54 435.38 440.67 435.38 444.73 435.38 448.7 435.38 452.6 435.38 456.43 435.38 460.19 435.38 463.89 435.38 467.53 435.38 471.12 435.38 474.65 435.38 478.14 435.38 481.58 435.38 484.98 435.38 488.34 435.38 491.66 435.38 494.95 435.38 498.21 435.38 501.44 435.38 504.64 435.38 507.82 435.38 510.98 435.38 514.12 435.38 517.24 435.38 520.34 435.38 523.43 435.38 526.51 435.38 529.58 435.38 532.64 435.38 535.7 435.38 538.75 435.38 541.8 435.38"/>
<path d="M390.6 261.9 390.6 264.58 390.6 267.26 390.6 269.94 390.6 272.63 390.6 275.33 390.6 278.03 390.6 280.75 390.6 283.48 390.6 286.22 390.6 288.97 390.6 291.75 390.6 294.54 390.6 297.35 390.6 300.19 390.6 303.05 390.6 305.94 390.6 308.86 390.6 311.81 390.6 314.8 390.6 317.82 390.6 320.89 390.6 323.99 390.6 327.14 390.6 330.34 390.6 333.59 390.6 336.9 390.6 340.26 390.6 343.68 390.6 347.17 390.6 350.73 390.6 354.37 390.6 358.08 390.6 361.88 390.6 365.77 390.6 369.75 390.6 373.83 390.61 378.02 390.62 382.31 390.64 386.72 390.69 391.24 390.8 395.83 391.09 400.41 391.75 404.76 393.2 408.48 395.8 411.09 399.5 412.54 403.83 413.21 408.39 413.49 412.97 413.61 417.46 413.66 421.86 413.68 426.14 413.69 430.31 413.69 434.38 413.69 438.34 413.69 442.21 413.69 446 413.69 449.69 413.69 453.31 413.69 456.86 413.69 460.34 413.69 463.75 413.69 467.1 413.69 470.39 413.69 473.63 413.69 476.81 413.69 479.95 413.69 483.04 413.69 486.1 413.69 489.11 413.69 492.08 413.69 495.02 413.69 497.93 413.69 500.81 413.69 503.66 413.69 506.49 413.69 509.29 413.69 512.07 413.69 514.83 413.69 517.58 413.69 520.31 413.69 523.02 413.69 525.73 413.69 528.42 413.69 531.11 413.69 533.79 413.69 536.46 413.69 539.13 413.69 541.8 413.69"/>
<path d="M412.2 261.9 412.2 264.2 412.2 266.49 412.2 268.8 412.2 271.1 412.2 273.41 412.2 275.73 412.2 278.06 412.2 280.39 412.2 282.74 412.2 285.11 412.2 287.48 412.2 289.88 412.2 292.29 412.2 294.72 412.2 297.17 412.2 299.65 412.2 302.15 412.2 304.68 412.2 307.24 412.2 309.83 412.2 312.46 412.2 315.12 412.2 317.82 412.2 320.56 412.2 323.35 412.2 326.18 412.2 329.06 412.2 332 412.2 334.99 412.2 338.04 412.2 341.16 412.2 344.34 412.2 347.6 412.2 350.93 412.21 354.34 412.21 357.83 412.22 361.42 412.24 365.09 412.28 368.86 412.36 372.69 412.52 376.57 412.87 380.39 413.59 383.97 414.95 387.02 417.17 389.25 420.21 390.61 423.78 391.33 427.58 391.69 431.44 391.85 435.26 391.93 439.01 391.97 442.67 391.99 446.24 392 449.72 392 453.12 392.01 456.44 392.01 459.68 392.01 462.85 392.01 465.96 392.01 469 392.01 471.98 392.01 474.9 392.01 477.77 392.01 480.59 392.01 483.37 392.01 486.1 392.01 488.79 392.01 491.44 392.01 494.05 392.01 496.63 392.01 499.18 392.01 501.7 392.01 504.2 392.01 506.66 392.01 509.11 392.01 511.53 392.01 513.93 392.01 516.32 392.01 518.69 392.01 521.04 392.01 523.38 392.01 525.71 392.01 528.02 392.01 530.33 392.01 532.64 392.01 534.93 392.01 537.22 392.01 539.51 392.01 541.8 392.01"/>
<path d="M433.8 261.9 433.8 263.81 433.8 265.73 433.8 267.65 433.8 269.57 433.8 271.49 433.8 273.42 433.8 275.36 433.8 277.31 433.8 279.27 433.8 281.24 433.8 283.22 433.8 285.21 433.8 287.22 433.8 289.25 433.8 291.29 433.8 293.36 433.8 295.44 433.8 297.55 433.8 299.69 433.8 301.85 433.8 304.03 433.8 306.25 433.8 308.5 433.8 310.79 433.8 313.11 433.8 315.47 433.8 317.87 433.8 320.32 433.8 322.81 433.8 325.35 433.8 327.95 433.8 330.6 433.81 333.31 433.81 336.08 433.82 338.92 433.83 341.83 433.85 344.81 433.89 347.85 433.95 350.96 434.08 354.1 434.31 357.24 434.73 360.3 435.47 363.14 436.7 365.57 438.54 367.41 440.95 368.65 443.78 369.4 446.83 369.82 449.96 370.05 453.09 370.17 456.19 370.24 459.22 370.28 462.18 370.3 465.08 370.31 467.91 370.32 470.67 370.32 473.37 370.32 476.01 370.32 478.6 370.32 481.13 370.32 483.61 370.32 486.05 370.32 488.44 370.32 490.79 370.32 493.1 370.32 495.38 370.32 497.62 370.32 499.83 370.32 502.01 370.32 504.16 370.32 506.29 370.32 508.39 370.32 510.46 370.32 512.52 370.32 514.56 370.32 516.58 370.32 518.58 370.32 520.57 370.32 522.54 370.32 524.5 370.32 526.45 370.32 528.39 370.32 530.32 370.32 532.24 370.32 534.16 370.32 536.08 370.32 537.99 370.32 539.89 370.32 541.8 370.32"/>
<path d="M455.4 261.9 455.4 263.43 455.4 264.96 455.4 266.5 455.4 268.03 455.4 269.57 455.4 271.12 455.4 272.67 455.4 274.23 455.4 275.8 455.4 277.37 455.4 278.95 455.4 280.55 455.4 282.16 455.4 283.78 455.4 285.42 455.4 287.07 455.4 288.74 455.4 290.42 455.4 292.13 455.4 293.86 455.4 295.61 455.4 297.38 455.4 299.18 455.4 301.01 455.4 302.87 455.4 304.75 455.4 306.68 455.4 308.63 455.4 310.62 455.41 312.66 455.41 314.73 455.42 316.85 455.42 319.02 455.43 321.23 455.45 323.49 455.48 325.8 455.52 328.16 455.6 330.56 455.71 332.99 455.89 335.43 456.19 337.83 456.66 340.14 457.39 342.27 458.46 344.1 459.92 345.56 461.75 346.64 463.86 347.37 466.16 347.85 468.56 348.14 470.99 348.33 473.41 348.44 475.8 348.51 478.15 348.56 480.45 348.59 482.7 348.61 484.91 348.62 487.06 348.62 489.17 348.63 491.24 348.63 493.27 348.64 495.25 348.64 497.2 348.64 499.11 348.64 500.99 348.64 502.84 348.64 504.66 348.64 506.46 348.64 508.23 348.64 509.97 348.64 511.69 348.64 513.39 348.64 515.07 348.64 516.73 348.64 518.38 348.64 520.01 348.64 521.62 348.64 523.22 348.64 524.81 348.64 526.39 348.64 527.96 348.64 529.52 348.64 531.07 348.64 532.62 348.64 534.16 348.64 535.69 348.64 537.22 348.64 538.75 348.64 540.27 348.64 541.8 348.64"/>
<path d="M477 261.9 477 263.05 477 264.2 477 265.35 477 266.5 477 267.66 477 268.81 477 269.98 477 271.15 477 272.32 477 273.5 477 274.69 477 275.89 477 277.09 477 278.31 477 279.54 477 280.78 477 282.03 477 283.29 477 284.57 477 285.87 477 287.18 477 288.51 477.01 289.86 477.01 291.23 477.01 292.62 477.01 294.03 477.02 295.47 477.02 296.94 477.03 298.43 477.04 299.95 477.05 301.5 477.07 303.08 477.09 304.69 477.12 306.33 477.17 308 477.23 309.7 477.32 311.42 477.44 313.16 477.62 314.9 477.87 316.62 478.22 318.29 478.71 319.88 479.37 321.34 480.23 322.63 481.31 323.71 482.59 324.58 484.04 325.24 485.63 325.73 487.3 326.08 489.01 326.33 490.74 326.51 492.47 326.64 494.19 326.73 495.88 326.79 497.54 326.83 499.18 326.87 500.78 326.89 502.36 326.91 503.9 326.92 505.41 326.93 506.9 326.93 508.36 326.94 509.79 326.94 511.2 326.95 512.59 326.95 513.95 326.95 515.3 326.95 516.62 326.95 517.93 326.95 519.22 326.95 520.49 326.95 521.75 326.95 523 326.95 524.23 326.95 525.45 326.95 526.67 326.95 527.87 326.95 529.06 326.95 530.24 326.95 531.42 326.95 532.59 326.95 533.75 326.95 534.91 326.95 536.07 326.95 537.22 326.95 538.37 326.95 539.51 326.95 540.66 326.95 541.8 326.95"/>
<path d="M498.6 261.9 498.6 262.67 498.6 263.43 498.6 264.2 498.6 264.97 498.6 265.74 498.6 266.51 498.6 267.29 498.6 268.06 498.6 268.85 498.61 269.63 498.61 270.43 498.61 271.22 498.61 272.03 498.61 272.84 498.61 273.65 498.62 274.48 498.62 275.31 498.62 276.15 498.63 277 498.63 277.87 498.64 278.74 498.65 279.62 498.65 280.52 498.66 281.43 498.68 282.35 498.69 283.28 498.71 284.23 498.73 285.19 498.76 286.17 498.79 287.17 498.83 288.18 498.88 289.2 498.95 290.24 499.02 291.29 499.12 292.34 499.24 293.41 499.39 294.47 499.58 295.53 499.81 296.57 500.1 297.59 500.45 298.57 500.88 299.5 501.4 300.37 502 301.15 502.7 301.85 503.48 302.46 504.34 302.98 505.27 303.41 506.25 303.77 507.26 304.06 508.3 304.29 509.36 304.48 510.42 304.63 511.48 304.75 512.53 304.84 513.57 304.92 514.61 304.98 515.63 305.04 516.63 305.08 517.62 305.11 518.6 305.14 519.56 305.16 520.5 305.18 521.43 305.19 522.35 305.2 523.26 305.22 524.15 305.22 525.03 305.23 525.9 305.24 526.75 305.24 527.6 305.25 528.44 305.25 529.27 305.25 530.09 305.26 530.91 305.26 531.71 305.26 532.51 305.26 533.31 305.26 534.1 305.26 534.88 305.27 535.66 305.27 536.44 305.27 537.21 305.27 537.98 305.27 538.75 305.27 539.51 305.27 540.27 305.27 541.04 305.27 541.8 305.27"/>
<path d="M520.2 261.9 520.21 262.28 520.22 262.67 520.22 263.05 520.23 263.43 520.24 263.81 520.25 264.2 520.26 264.58 520.28 264.97 520.29 265.36 520.3 265.75 520.32 266.14 520.34 266.53 520.35 266.93 520.37 267.33 520.39 267.73 520.42 268.13 520.44 268.53 520.47 268.94 520.5 269.35 520.53 269.77 520.57 270.18 520.61 270.6 520.65 271.03 520.7 271.45 520.75 271.88 520.81 272.31 520.87 272.75 520.94 273.18 521.02 273.62 521.1 274.06 521.2 274.5 521.3 274.94 521.42 275.38 521.54 275.82 521.68 276.25 521.84 276.68 522.01 277.1 522.19 277.52 522.39 277.93 522.61 278.32 522.85 278.71 523.11 279.07 523.39 279.43 523.69 279.76 524.01 280.08 524.34 280.38 524.69 280.66 525.06 280.92 525.44 281.16 525.84 281.38 526.24 281.59 526.66 281.77 527.08 281.94 527.51 282.1 527.94 282.24 528.37 282.36 528.81 282.48 529.25 282.58 529.69 282.68 530.13 282.76 530.56 282.84 531 282.91 531.43 282.97 531.86 283.03 532.29 283.08 532.71 283.13 533.13 283.17 533.55 283.21 533.96 283.25 534.38 283.28 534.79 283.31 535.19 283.34 535.6 283.37 536 283.39 536.4 283.41 536.79 283.43 537.18 283.45 537.58 283.47 537.97 283.48 538.35 283.5 538.74 283.51 539.13 283.52 539.51 283.53 539.89 283.54 540.27 283.55 540.66 283.56 541.04 283.57 541.42 283.58 541.8 283.58"/>
</g>
<clipPath id="c587"><rect x="325.5" y="261.6" width="216.6" height="217.45"/></clipPath>
<g class="cl" opacity="0.6"><text x="368" y="268.81">0.2</text><text x="520" y="266.31">0.9</text><text x="433.5" y="280.31">0.5</text><text x="476.5" y="296.31">0.7</text><text x="538" y="308.31">0.8</text><text x="499" y="352.31">0.6</text><text x="411" y="373.31">0.4</text><text x="538" y="416.31">0.3</text><text x="350.2" y="456.31">0.1</text></g>
<g class="cl" clip-path="url(#c587)"><text x="368" y="268.81">0.2</text><text x="520" y="266.31">0.9</text><text x="433.5" y="280.31">0.5</text><text x="476.5" y="296.31">0.7</text><text x="538" y="308.31">0.8</text><text x="499" y="352.31">0.6</text><text x="411" y="373.31">0.4</text><text x="538" y="416.31">0.3</text><text x="350.2" y="456.31">0.1</text></g>
<rect x="320.6" y="257.4" width="226.1" height="225.9" fill="none" stroke="#d4d4d4" stroke-width="1.0"/>
<g class="tk">
<text x="325.8" y="491.1" text-anchor="middle">0</text>
<text x="319.6" y="481.25" text-anchor="end">0</text>
<text x="369" y="491.1" text-anchor="middle">0.2</text>
<text x="319.6" y="437.88" text-anchor="end">0.2</text>
<text x="412.2" y="491.1" text-anchor="middle">0.4</text>
<text x="319.6" y="394.51" text-anchor="end">0.4</text>
<text x="455.4" y="491.1" text-anchor="middle">0.6</text>
<text x="319.6" y="351.14" text-anchor="end">0.6</text>
<text x="498.6" y="491.1" text-anchor="middle">0.8</text>
<text x="319.6" y="307.77" text-anchor="end">0.8</text>
<text x="541.8" y="491.1" text-anchor="middle">1</text>
<text x="319.6" y="264.4" text-anchor="end">1</text>
</g>
<text class="ti" x="433.8" y="255.55" text-anchor="middle">Contours for Copula at <tspan font-style="italic">θ</tspan> = 40, <tspan font-style="italic">τ</tspan> = 0.90</text>
</svg></body></html>
